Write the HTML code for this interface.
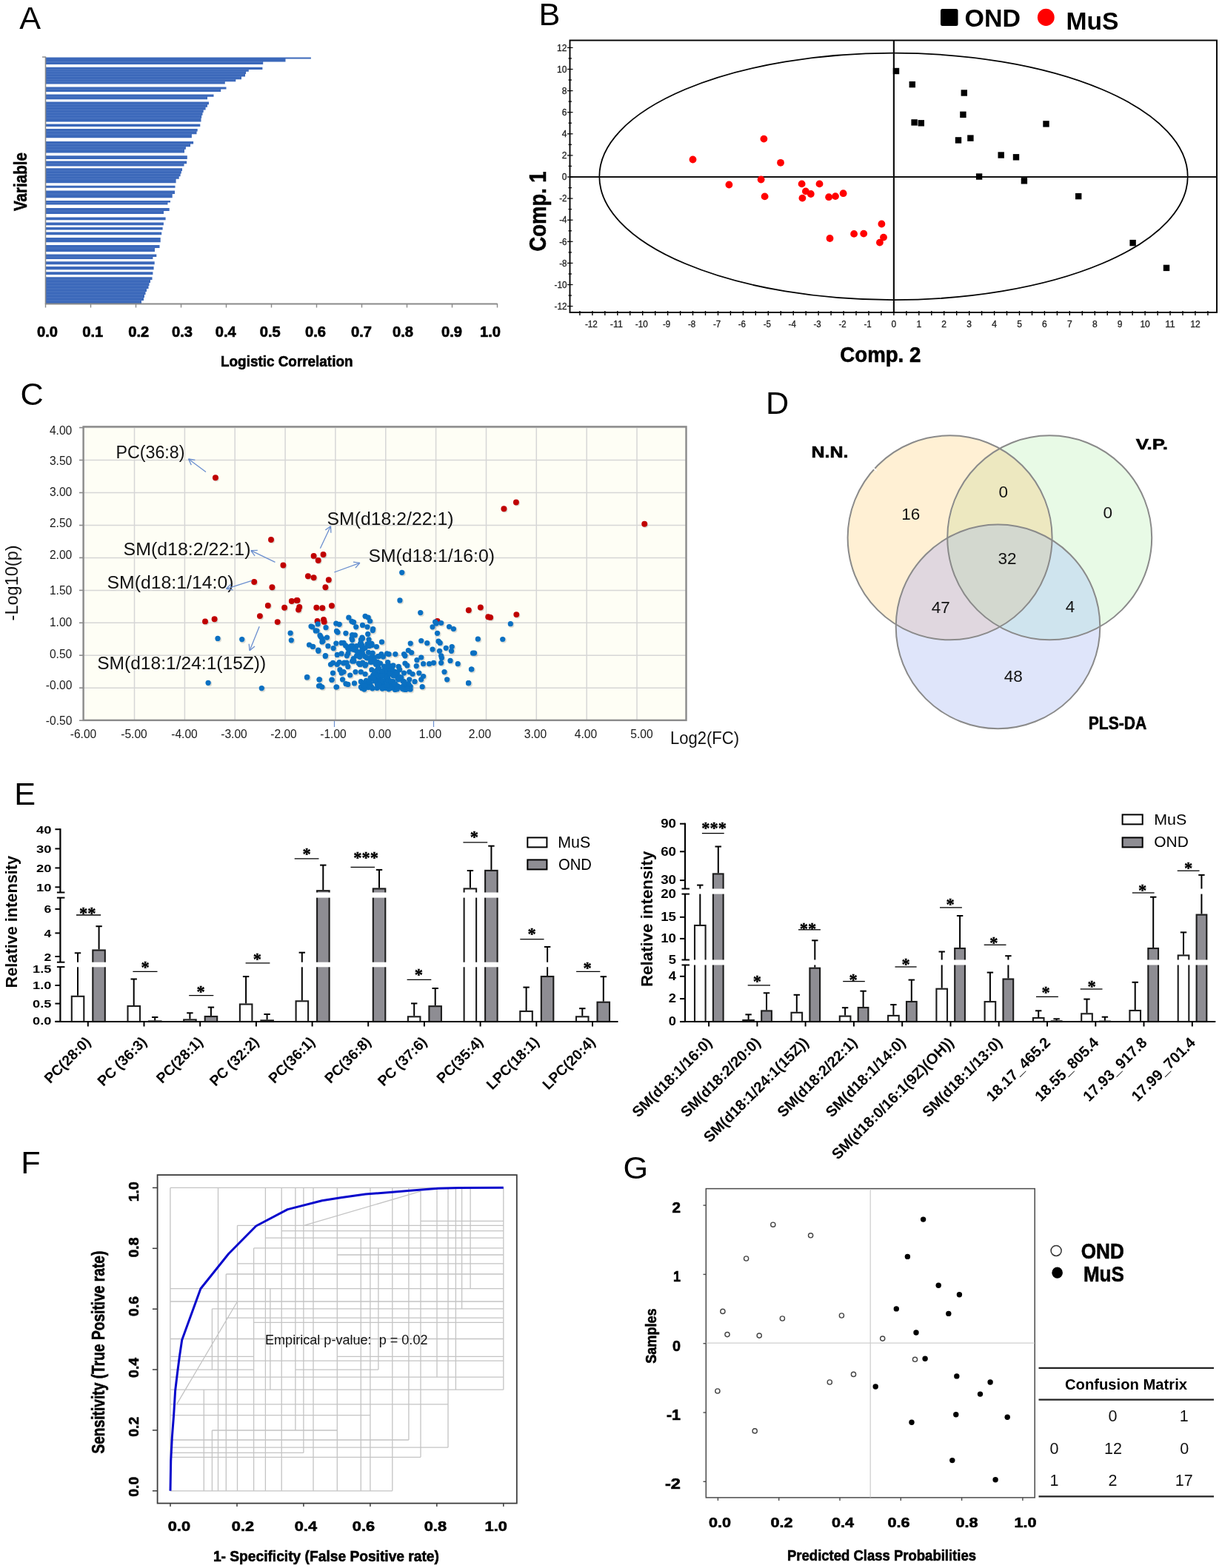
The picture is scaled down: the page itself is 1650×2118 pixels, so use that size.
<!DOCTYPE html>
<html><head><meta charset="utf-8"><title>Figure</title>
<style>html,body{margin:0;padding:0;background:#fff;}svg{display:block;}
text{font-family:"Liberation Sans",Arial,sans-serif;}</style></head><body>
<svg width="1650" height="2118" viewBox="0 0 1650 2118">
<rect x="0" y="0" width="1650" height="2118" fill="#fff"/>
<path d="M62,77.5 L419.9,77.5 L419.9,79.4 L62,79.4 Z M62,79.4 L385.5,79.4 L385.5,83.5 L355.2,83.5 L355.2,86.9 L62,86.9 Z M62,90.8 L354.4,90.8 L354.4,94 L335.8,94 L335.8,96.8 L332.1,96.8 L332.1,100 L331,100 L331,103.6 L326,103.6 L326,107.3 L318.3,107.3 L318.3,110.2 L303.8,110.2 L303.8,113.5 L62,113.5 Z M62,117.5 L305.5,117.5 L305.5,120.6 L298.2,120.6 L298.2,124 L62,124 Z M62,127.4 L288.5,127.4 L288.5,130.8 L280,130.8 L280,134.2 L62,134.2 Z M62,137.6 L282,137.6 L282,141.2 L280,141.2 L280,144.8 L277.6,144.8 L277.6,148.5 L274.7,148.5 L274.7,152.1 L273.5,152.1 L273.5,155.8 L272.2,155.8 L272.2,159.4 L271.5,159.4 L271.5,164.4 L62,164.4 Z M62,167.4 L270.3,167.4 L270.3,171 L62,171 Z M62,174 L266.7,174 L266.7,177.6 L265.5,177.6 L265.5,181.2 L258.9,181.2 L258.9,186.2 L62,186.2 Z M62,190.9 L261.1,190.9 L261.1,194.5 L257,194.5 L257,198.2 L250.9,198.2 L250.9,201.8 L249,201.8 L249,206.4 L62,206.4 Z M62,210.3 L252.8,210.3 L252.8,214.9 L62,214.9 Z M62,217.6 L252.1,217.6 L252.1,221.2 L248.5,221.2 L248.5,224.6 L62,224.6 Z M62,227.3 L246,227.3 L246,230.9 L244.8,230.9 L244.8,234.5 L243.6,234.5 L243.6,238.2 L241.7,238.2 L241.7,241.8 L237.6,241.8 L237.6,247.2 L62,247.2 Z M62,250.8 L236.5,250.8 L236.5,253.8 L62,253.8 Z M62,257.6 L236,257.6 L236,262 L232.7,262 L232.7,267.3 L62,267.3 Z M62,270.9 L230,270.9 L230,273.5 L226.4,273.5 L226.4,276.4 L62,276.4 Z M62,280.9 L228.7,280.9 L228.7,285 L221,285 L221,289 L62,289 Z M62,293.6 L223.6,293.6 L223.6,297.3 L62,297.3 Z M62,300.5 L220.9,300.5 L220.9,304.2 L62,304.2 Z M62,306.9 L219.6,306.9 L219.6,310.5 L62,310.5 Z M62,313.6 L218.2,313.6 L218.2,317.3 L62,317.3 Z M62,320.9 L216.7,320.9 L216.7,327.3 L62,327.3 Z M62,330.9 L215.5,330.9 L215.5,335 L209,335 L209,340 L62,340 Z M62,343.6 L211.3,343.6 L211.3,347 L206.4,347 L206.4,350 L62,350 Z M62,353.3 L208.7,353.3 L208.7,357.3 L62,357.3 Z M62,360 L207.6,360 L207.6,364.2 L62,364.2 Z M62,367.3 L206.4,367.3 L206.4,370.9 L62,370.9 Z M62,374.2 L205.5,374.2 L205.5,378 L203,378 L203,382 L201.5,382 L201.5,386 L200.5,386 L200.5,390 L198,390 L198,394 L196.5,394 L196.5,398 L195,398 L195,402 L194,402 L194,406 L191,406 L191,410 L62,410 Z " fill="#3b68ba"/>
<path d="M63,83.5H354.2M63,94H334.8M63,96.8H331.1M63,100H330M63,103.6H325M63,107.3H317.3M63,110.2H302.8M63,120.6H297.2M63,130.8H279M63,141.2H279M63,144.8H276.6M63,148.5H273.7M63,152.1H272.5M63,155.8H271.2M63,159.4H270.5M63,177.6H264.5M63,181.2H257.9M63,194.5H256M63,198.2H249.9M63,201.8H248M63,221.2H247.5M63,230.9H243.8M63,234.5H242.6M63,238.2H240.7M63,241.8H236.6M63,262H231.7M63,273.5H225.4M63,285H220M63,335H208M63,347H205.4M63,378H202M63,382H200.5M63,386H199.5M63,390H197M63,394H195.5M63,398H194M63,402H193M63,406H190" stroke="#6f93d2" stroke-width="0.7" opacity="0.6" fill="none"/>
<line x1="61.5" y1="76.5" x2="61.5" y2="411.0" stroke="#8a8a8a" stroke-width="1.6" />
<line x1="57.0" y1="77.0" x2="61.5" y2="77.0" stroke="#8a8a8a" stroke-width="1.4" />
<line x1="61.0" y1="410.5" x2="671.5" y2="410.5" stroke="#8a8a8a" stroke-width="1.8" />
<line x1="61.5" y1="410.0" x2="61.5" y2="415.5" stroke="#8a8a8a" stroke-width="1.4" />
<line x1="122.5" y1="410.0" x2="122.5" y2="415.5" stroke="#8a8a8a" stroke-width="1.4" />
<line x1="183.5" y1="410.0" x2="183.5" y2="415.5" stroke="#8a8a8a" stroke-width="1.4" />
<line x1="244.5" y1="410.0" x2="244.5" y2="415.5" stroke="#8a8a8a" stroke-width="1.4" />
<line x1="305.5" y1="410.0" x2="305.5" y2="415.5" stroke="#8a8a8a" stroke-width="1.4" />
<line x1="366.5" y1="410.0" x2="366.5" y2="415.5" stroke="#8a8a8a" stroke-width="1.4" />
<line x1="427.5" y1="410.0" x2="427.5" y2="415.5" stroke="#8a8a8a" stroke-width="1.4" />
<line x1="488.5" y1="410.0" x2="488.5" y2="415.5" stroke="#8a8a8a" stroke-width="1.4" />
<line x1="549.5" y1="410.0" x2="549.5" y2="415.5" stroke="#8a8a8a" stroke-width="1.4" />
<line x1="610.5" y1="410.0" x2="610.5" y2="415.5" stroke="#8a8a8a" stroke-width="1.4" />
<line x1="671.5" y1="410.0" x2="671.5" y2="415.5" stroke="#8a8a8a" stroke-width="1.4" />
<text x="64.0" y="455.3" font-size="19.5" font-weight="bold" text-anchor="middle" textLength="28.0" lengthAdjust="spacingAndGlyphs" stroke="#000" stroke-width="0.6">0.0</text>
<text x="125.2" y="455.3" font-size="19.5" font-weight="bold" text-anchor="middle" textLength="28.0" lengthAdjust="spacingAndGlyphs" stroke="#000" stroke-width="0.6">0.1</text>
<text x="187.2" y="455.3" font-size="19.5" font-weight="bold" text-anchor="middle" textLength="28.0" lengthAdjust="spacingAndGlyphs" stroke="#000" stroke-width="0.6">0.2</text>
<text x="246.0" y="455.3" font-size="19.5" font-weight="bold" text-anchor="middle" textLength="28.0" lengthAdjust="spacingAndGlyphs" stroke="#000" stroke-width="0.6">0.3</text>
<text x="304.7" y="455.3" font-size="19.5" font-weight="bold" text-anchor="middle" textLength="28.0" lengthAdjust="spacingAndGlyphs" stroke="#000" stroke-width="0.6">0.4</text>
<text x="364.8" y="455.3" font-size="19.5" font-weight="bold" text-anchor="middle" textLength="28.0" lengthAdjust="spacingAndGlyphs" stroke="#000" stroke-width="0.6">0.5</text>
<text x="426.0" y="455.3" font-size="19.5" font-weight="bold" text-anchor="middle" textLength="28.0" lengthAdjust="spacingAndGlyphs" stroke="#000" stroke-width="0.6">0.6</text>
<text x="488.0" y="455.3" font-size="19.5" font-weight="bold" text-anchor="middle" textLength="28.0" lengthAdjust="spacingAndGlyphs" stroke="#000" stroke-width="0.6">0.7</text>
<text x="544.0" y="455.3" font-size="19.5" font-weight="bold" text-anchor="middle" textLength="28.0" lengthAdjust="spacingAndGlyphs" stroke="#000" stroke-width="0.6">0.8</text>
<text x="610.0" y="455.3" font-size="19.5" font-weight="bold" text-anchor="middle" textLength="28.0" lengthAdjust="spacingAndGlyphs" stroke="#000" stroke-width="0.6">0.9</text>
<text x="662.0" y="455.3" font-size="19.5" font-weight="bold" text-anchor="middle" textLength="28.0" lengthAdjust="spacingAndGlyphs" stroke="#000" stroke-width="0.6">1.0</text>
<text x="298.0" y="495.0" font-size="20.4" font-weight="bold" textLength="178.5" lengthAdjust="spacingAndGlyphs" stroke="#000" stroke-width="0.6">Logistic Correlation</text>
<text x="0.0" y="0.0" font-size="24" font-weight="bold" text-anchor="middle" textLength="79.0" lengthAdjust="spacingAndGlyphs" transform="translate(35.5,245.5) rotate(-90)" stroke="#000" stroke-width="0.6">Variable</text>
<text x="26.2" y="38.9" font-size="43.2">A</text>
<text x="727.6" y="33.8" font-size="43.2">B</text>
<text x="27.4" y="546.6" font-size="43.2">C</text>
<text x="1033.9" y="558.9" font-size="43.2">D</text>
<text x="19.2" y="1086.9" font-size="43.2">E</text>
<text x="28.2" y="1584.9" font-size="43.2">F</text>
<text x="841.6" y="1592.3" font-size="43.2">G</text>
<rect x="1270" y="12" width="23.5" height="23" rx="2.5" fill="#000"/>
<text x="1302.5" y="36.4" font-size="33" font-weight="bold" textLength="75.5" lengthAdjust="spacingAndGlyphs">OND</text>
<ellipse cx="1412.3" cy="23.4" rx="11.4" ry="11.6" fill="#ff0000"/>
<text x="1439.5" y="39.6" font-size="33" font-weight="bold" textLength="71.0" lengthAdjust="spacingAndGlyphs">MuS</text>
<rect x="769.5" y="54.5" width="873.5" height="367.5" fill="#fff" stroke="#000" stroke-width="1.9" />
<ellipse cx="1206.5" cy="238.4" rx="397.2" ry="166.7" fill="none" stroke="#000" stroke-width="1.8"/>
<line x1="769.5" y1="239.0" x2="1643.0" y2="239.0" stroke="#111" stroke-width="2.2" />
<line x1="1206.9" y1="54.5" x2="1206.9" y2="422.0" stroke="#111" stroke-width="2.2" />
<line x1="766.0" y1="413.6" x2="773.5" y2="413.6" stroke="#000" stroke-width="1.2" />
<text x="765.5" y="417.8" font-size="12" text-anchor="end" fill="#222" textLength="16.9" lengthAdjust="spacingAndGlyphs" stroke="#222" stroke-width="0.3">-12</text>
<line x1="767.5" y1="399.1" x2="772.0" y2="399.1" stroke="#000" stroke-width="1.2" />
<line x1="766.0" y1="384.5" x2="773.5" y2="384.5" stroke="#000" stroke-width="1.2" />
<text x="765.5" y="388.7" font-size="12" text-anchor="end" fill="#222" textLength="16.9" lengthAdjust="spacingAndGlyphs" stroke="#222" stroke-width="0.3">-10</text>
<line x1="767.5" y1="370.0" x2="772.0" y2="370.0" stroke="#000" stroke-width="1.2" />
<line x1="766.0" y1="355.4" x2="773.5" y2="355.4" stroke="#000" stroke-width="1.2" />
<text x="765.5" y="359.6" font-size="12" text-anchor="end" fill="#222" textLength="10.2" lengthAdjust="spacingAndGlyphs" stroke="#222" stroke-width="0.3">-8</text>
<line x1="767.5" y1="340.9" x2="772.0" y2="340.9" stroke="#000" stroke-width="1.2" />
<line x1="766.0" y1="326.3" x2="773.5" y2="326.3" stroke="#000" stroke-width="1.2" />
<text x="765.5" y="330.5" font-size="12" text-anchor="end" fill="#222" textLength="10.2" lengthAdjust="spacingAndGlyphs" stroke="#222" stroke-width="0.3">-6</text>
<line x1="767.5" y1="311.8" x2="772.0" y2="311.8" stroke="#000" stroke-width="1.2" />
<line x1="766.0" y1="297.2" x2="773.5" y2="297.2" stroke="#000" stroke-width="1.2" />
<text x="765.5" y="301.4" font-size="12" text-anchor="end" fill="#222" textLength="10.2" lengthAdjust="spacingAndGlyphs" stroke="#222" stroke-width="0.3">-4</text>
<line x1="767.5" y1="282.6" x2="772.0" y2="282.6" stroke="#000" stroke-width="1.2" />
<line x1="766.0" y1="268.1" x2="773.5" y2="268.1" stroke="#000" stroke-width="1.2" />
<text x="765.5" y="272.3" font-size="12" text-anchor="end" fill="#222" textLength="10.2" lengthAdjust="spacingAndGlyphs" stroke="#222" stroke-width="0.3">-2</text>
<line x1="767.5" y1="253.6" x2="772.0" y2="253.6" stroke="#000" stroke-width="1.2" />
<line x1="766.0" y1="239.0" x2="773.5" y2="239.0" stroke="#000" stroke-width="1.2" />
<text x="765.5" y="243.2" font-size="12" text-anchor="end" fill="#222" textLength="6.7" lengthAdjust="spacingAndGlyphs" stroke="#222" stroke-width="0.3">0</text>
<line x1="767.5" y1="224.4" x2="772.0" y2="224.4" stroke="#000" stroke-width="1.2" />
<line x1="766.0" y1="209.9" x2="773.5" y2="209.9" stroke="#000" stroke-width="1.2" />
<text x="765.5" y="214.1" font-size="12" text-anchor="end" fill="#222" textLength="6.7" lengthAdjust="spacingAndGlyphs" stroke="#222" stroke-width="0.3">2</text>
<line x1="767.5" y1="195.3" x2="772.0" y2="195.3" stroke="#000" stroke-width="1.2" />
<line x1="766.0" y1="180.8" x2="773.5" y2="180.8" stroke="#000" stroke-width="1.2" />
<text x="765.5" y="185.0" font-size="12" text-anchor="end" fill="#222" textLength="6.7" lengthAdjust="spacingAndGlyphs" stroke="#222" stroke-width="0.3">4</text>
<line x1="767.5" y1="166.2" x2="772.0" y2="166.2" stroke="#000" stroke-width="1.2" />
<line x1="766.0" y1="151.7" x2="773.5" y2="151.7" stroke="#000" stroke-width="1.2" />
<text x="765.5" y="155.9" font-size="12" text-anchor="end" fill="#222" textLength="6.7" lengthAdjust="spacingAndGlyphs" stroke="#222" stroke-width="0.3">6</text>
<line x1="767.5" y1="137.1" x2="772.0" y2="137.1" stroke="#000" stroke-width="1.2" />
<line x1="766.0" y1="122.6" x2="773.5" y2="122.6" stroke="#000" stroke-width="1.2" />
<text x="765.5" y="126.8" font-size="12" text-anchor="end" fill="#222" textLength="6.7" lengthAdjust="spacingAndGlyphs" stroke="#222" stroke-width="0.3">8</text>
<line x1="767.5" y1="108.0" x2="772.0" y2="108.0" stroke="#000" stroke-width="1.2" />
<line x1="766.0" y1="93.5" x2="773.5" y2="93.5" stroke="#000" stroke-width="1.2" />
<text x="765.5" y="97.7" font-size="12" text-anchor="end" fill="#222" textLength="13.4" lengthAdjust="spacingAndGlyphs" stroke="#222" stroke-width="0.3">10</text>
<line x1="767.5" y1="78.9" x2="772.0" y2="78.9" stroke="#000" stroke-width="1.2" />
<line x1="766.0" y1="64.4" x2="773.5" y2="64.4" stroke="#000" stroke-width="1.2" />
<text x="765.5" y="68.6" font-size="12" text-anchor="end" fill="#222" textLength="13.4" lengthAdjust="spacingAndGlyphs" stroke="#222" stroke-width="0.3">12</text>
<line x1="782.9" y1="420.0" x2="782.9" y2="426.0" stroke="#000" stroke-width="1.4" />
<line x1="799.9" y1="420.0" x2="799.9" y2="426.0" stroke="#000" stroke-width="1.4" />
<text x="798.4" y="442.0" font-size="12" text-anchor="middle" fill="#222" textLength="16.9" lengthAdjust="spacingAndGlyphs" stroke="#222" stroke-width="0.3">-12</text>
<line x1="816.8" y1="420.0" x2="816.8" y2="426.0" stroke="#000" stroke-width="1.4" />
<line x1="833.8" y1="420.0" x2="833.8" y2="426.0" stroke="#000" stroke-width="1.4" />
<text x="832.3" y="442.0" font-size="12" text-anchor="middle" fill="#222" textLength="16.9" lengthAdjust="spacingAndGlyphs" stroke="#222" stroke-width="0.3">-11</text>
<line x1="850.7" y1="420.0" x2="850.7" y2="426.0" stroke="#000" stroke-width="1.4" />
<line x1="867.7" y1="420.0" x2="867.7" y2="426.0" stroke="#000" stroke-width="1.4" />
<text x="866.2" y="442.0" font-size="12" text-anchor="middle" fill="#222" textLength="16.9" lengthAdjust="spacingAndGlyphs" stroke="#222" stroke-width="0.3">-10</text>
<line x1="884.7" y1="420.0" x2="884.7" y2="426.0" stroke="#000" stroke-width="1.4" />
<line x1="901.6" y1="420.0" x2="901.6" y2="426.0" stroke="#000" stroke-width="1.4" />
<text x="900.1" y="442.0" font-size="12" text-anchor="middle" fill="#222" textLength="10.2" lengthAdjust="spacingAndGlyphs" stroke="#222" stroke-width="0.3">-9</text>
<line x1="918.6" y1="420.0" x2="918.6" y2="426.0" stroke="#000" stroke-width="1.4" />
<line x1="935.5" y1="420.0" x2="935.5" y2="426.0" stroke="#000" stroke-width="1.4" />
<text x="934.0" y="442.0" font-size="12" text-anchor="middle" fill="#222" textLength="10.2" lengthAdjust="spacingAndGlyphs" stroke="#222" stroke-width="0.3">-8</text>
<line x1="952.5" y1="420.0" x2="952.5" y2="426.0" stroke="#000" stroke-width="1.4" />
<line x1="969.5" y1="420.0" x2="969.5" y2="426.0" stroke="#000" stroke-width="1.4" />
<text x="968.0" y="442.0" font-size="12" text-anchor="middle" fill="#222" textLength="10.2" lengthAdjust="spacingAndGlyphs" stroke="#222" stroke-width="0.3">-7</text>
<line x1="986.4" y1="420.0" x2="986.4" y2="426.0" stroke="#000" stroke-width="1.4" />
<line x1="1003.4" y1="420.0" x2="1003.4" y2="426.0" stroke="#000" stroke-width="1.4" />
<text x="1001.9" y="442.0" font-size="12" text-anchor="middle" fill="#222" textLength="10.2" lengthAdjust="spacingAndGlyphs" stroke="#222" stroke-width="0.3">-6</text>
<line x1="1020.3" y1="420.0" x2="1020.3" y2="426.0" stroke="#000" stroke-width="1.4" />
<line x1="1037.3" y1="420.0" x2="1037.3" y2="426.0" stroke="#000" stroke-width="1.4" />
<text x="1035.8" y="442.0" font-size="12" text-anchor="middle" fill="#222" textLength="10.2" lengthAdjust="spacingAndGlyphs" stroke="#222" stroke-width="0.3">-5</text>
<line x1="1054.3" y1="420.0" x2="1054.3" y2="426.0" stroke="#000" stroke-width="1.4" />
<line x1="1071.2" y1="420.0" x2="1071.2" y2="426.0" stroke="#000" stroke-width="1.4" />
<text x="1069.7" y="442.0" font-size="12" text-anchor="middle" fill="#222" textLength="10.2" lengthAdjust="spacingAndGlyphs" stroke="#222" stroke-width="0.3">-4</text>
<line x1="1088.2" y1="420.0" x2="1088.2" y2="426.0" stroke="#000" stroke-width="1.4" />
<line x1="1105.1" y1="420.0" x2="1105.1" y2="426.0" stroke="#000" stroke-width="1.4" />
<text x="1103.6" y="442.0" font-size="12" text-anchor="middle" fill="#222" textLength="10.2" lengthAdjust="spacingAndGlyphs" stroke="#222" stroke-width="0.3">-3</text>
<line x1="1122.1" y1="420.0" x2="1122.1" y2="426.0" stroke="#000" stroke-width="1.4" />
<line x1="1139.1" y1="420.0" x2="1139.1" y2="426.0" stroke="#000" stroke-width="1.4" />
<text x="1137.6" y="442.0" font-size="12" text-anchor="middle" fill="#222" textLength="10.2" lengthAdjust="spacingAndGlyphs" stroke="#222" stroke-width="0.3">-2</text>
<line x1="1156.0" y1="420.0" x2="1156.0" y2="426.0" stroke="#000" stroke-width="1.4" />
<line x1="1173.0" y1="420.0" x2="1173.0" y2="426.0" stroke="#000" stroke-width="1.4" />
<text x="1171.5" y="442.0" font-size="12" text-anchor="middle" fill="#222" textLength="10.2" lengthAdjust="spacingAndGlyphs" stroke="#222" stroke-width="0.3">-1</text>
<line x1="1189.9" y1="420.0" x2="1189.9" y2="426.0" stroke="#000" stroke-width="1.4" />
<line x1="1206.9" y1="420.0" x2="1206.9" y2="426.0" stroke="#000" stroke-width="1.4" />
<text x="1206.9" y="442.0" font-size="12" text-anchor="middle" fill="#222" textLength="6.7" lengthAdjust="spacingAndGlyphs" stroke="#222" stroke-width="0.3">0</text>
<line x1="1223.9" y1="420.0" x2="1223.9" y2="426.0" stroke="#000" stroke-width="1.4" />
<line x1="1240.8" y1="420.0" x2="1240.8" y2="426.0" stroke="#000" stroke-width="1.4" />
<text x="1240.8" y="442.0" font-size="12" text-anchor="middle" fill="#222" textLength="6.7" lengthAdjust="spacingAndGlyphs" stroke="#222" stroke-width="0.3">1</text>
<line x1="1257.8" y1="420.0" x2="1257.8" y2="426.0" stroke="#000" stroke-width="1.4" />
<line x1="1274.7" y1="420.0" x2="1274.7" y2="426.0" stroke="#000" stroke-width="1.4" />
<text x="1274.7" y="442.0" font-size="12" text-anchor="middle" fill="#222" textLength="6.7" lengthAdjust="spacingAndGlyphs" stroke="#222" stroke-width="0.3">2</text>
<line x1="1291.7" y1="420.0" x2="1291.7" y2="426.0" stroke="#000" stroke-width="1.4" />
<line x1="1308.7" y1="420.0" x2="1308.7" y2="426.0" stroke="#000" stroke-width="1.4" />
<text x="1308.7" y="442.0" font-size="12" text-anchor="middle" fill="#222" textLength="6.7" lengthAdjust="spacingAndGlyphs" stroke="#222" stroke-width="0.3">3</text>
<line x1="1325.6" y1="420.0" x2="1325.6" y2="426.0" stroke="#000" stroke-width="1.4" />
<line x1="1342.6" y1="420.0" x2="1342.6" y2="426.0" stroke="#000" stroke-width="1.4" />
<text x="1342.6" y="442.0" font-size="12" text-anchor="middle" fill="#222" textLength="6.7" lengthAdjust="spacingAndGlyphs" stroke="#222" stroke-width="0.3">4</text>
<line x1="1359.5" y1="420.0" x2="1359.5" y2="426.0" stroke="#000" stroke-width="1.4" />
<line x1="1376.5" y1="420.0" x2="1376.5" y2="426.0" stroke="#000" stroke-width="1.4" />
<text x="1376.5" y="442.0" font-size="12" text-anchor="middle" fill="#222" textLength="6.7" lengthAdjust="spacingAndGlyphs" stroke="#222" stroke-width="0.3">5</text>
<line x1="1393.5" y1="420.0" x2="1393.5" y2="426.0" stroke="#000" stroke-width="1.4" />
<line x1="1410.4" y1="420.0" x2="1410.4" y2="426.0" stroke="#000" stroke-width="1.4" />
<text x="1410.4" y="442.0" font-size="12" text-anchor="middle" fill="#222" textLength="6.7" lengthAdjust="spacingAndGlyphs" stroke="#222" stroke-width="0.3">6</text>
<line x1="1427.4" y1="420.0" x2="1427.4" y2="426.0" stroke="#000" stroke-width="1.4" />
<line x1="1444.3" y1="420.0" x2="1444.3" y2="426.0" stroke="#000" stroke-width="1.4" />
<text x="1444.3" y="442.0" font-size="12" text-anchor="middle" fill="#222" textLength="6.7" lengthAdjust="spacingAndGlyphs" stroke="#222" stroke-width="0.3">7</text>
<line x1="1461.3" y1="420.0" x2="1461.3" y2="426.0" stroke="#000" stroke-width="1.4" />
<line x1="1478.3" y1="420.0" x2="1478.3" y2="426.0" stroke="#000" stroke-width="1.4" />
<text x="1478.3" y="442.0" font-size="12" text-anchor="middle" fill="#222" textLength="6.7" lengthAdjust="spacingAndGlyphs" stroke="#222" stroke-width="0.3">8</text>
<line x1="1495.2" y1="420.0" x2="1495.2" y2="426.0" stroke="#000" stroke-width="1.4" />
<line x1="1512.2" y1="420.0" x2="1512.2" y2="426.0" stroke="#000" stroke-width="1.4" />
<text x="1512.2" y="442.0" font-size="12" text-anchor="middle" fill="#222" textLength="6.7" lengthAdjust="spacingAndGlyphs" stroke="#222" stroke-width="0.3">9</text>
<line x1="1529.1" y1="420.0" x2="1529.1" y2="426.0" stroke="#000" stroke-width="1.4" />
<line x1="1546.1" y1="420.0" x2="1546.1" y2="426.0" stroke="#000" stroke-width="1.4" />
<text x="1546.1" y="442.0" font-size="12" text-anchor="middle" fill="#222" textLength="13.4" lengthAdjust="spacingAndGlyphs" stroke="#222" stroke-width="0.3">10</text>
<line x1="1563.1" y1="420.0" x2="1563.1" y2="426.0" stroke="#000" stroke-width="1.4" />
<line x1="1580.0" y1="420.0" x2="1580.0" y2="426.0" stroke="#000" stroke-width="1.4" />
<text x="1580.0" y="442.0" font-size="12" text-anchor="middle" fill="#222" textLength="13.4" lengthAdjust="spacingAndGlyphs" stroke="#222" stroke-width="0.3">11</text>
<line x1="1597.0" y1="420.0" x2="1597.0" y2="426.0" stroke="#000" stroke-width="1.4" />
<line x1="1613.9" y1="420.0" x2="1613.9" y2="426.0" stroke="#000" stroke-width="1.4" />
<text x="1613.9" y="442.0" font-size="12" text-anchor="middle" fill="#222" textLength="13.4" lengthAdjust="spacingAndGlyphs" stroke="#222" stroke-width="0.3">12</text>
<line x1="1630.9" y1="420.0" x2="1630.9" y2="426.0" stroke="#000" stroke-width="1.4" />
<circle cx="935.5" cy="215.5" r="4.9" fill="#ff0000"/>
<circle cx="1031.4" cy="187.6" r="4.9" fill="#ff0000"/>
<circle cx="1054.0" cy="219.8" r="4.9" fill="#ff0000"/>
<circle cx="984.4" cy="249.5" r="4.9" fill="#ff0000"/>
<circle cx="1027.6" cy="242.5" r="4.9" fill="#ff0000"/>
<circle cx="1032.6" cy="265.4" r="4.9" fill="#ff0000"/>
<circle cx="1082.6" cy="248.4" r="4.9" fill="#ff0000"/>
<circle cx="1087.9" cy="258.4" r="4.9" fill="#ff0000"/>
<circle cx="1083.4" cy="267.6" r="4.9" fill="#ff0000"/>
<circle cx="1094.8" cy="262.0" r="4.9" fill="#ff0000"/>
<circle cx="1106.5" cy="248.4" r="4.9" fill="#ff0000"/>
<circle cx="1119.1" cy="266.2" r="4.9" fill="#ff0000"/>
<circle cx="1128.0" cy="265.1" r="4.9" fill="#ff0000"/>
<circle cx="1138.6" cy="261.2" r="4.9" fill="#ff0000"/>
<circle cx="1190.4" cy="302.5" r="4.9" fill="#ff0000"/>
<circle cx="1153.1" cy="315.9" r="4.9" fill="#ff0000"/>
<circle cx="1166.2" cy="315.6" r="4.9" fill="#ff0000"/>
<circle cx="1120.5" cy="322.0" r="4.9" fill="#ff0000"/>
<circle cx="1193.0" cy="320.6" r="4.9" fill="#ff0000"/>
<circle cx="1187.9" cy="327.6" r="4.9" fill="#ff0000"/>
<rect x="1205.8" y="91.8" width="8.4" height="8.4" fill="#000" />
<rect x="1227.6" y="109.9" width="8.4" height="8.4" fill="#000" />
<rect x="1297.6" y="121.3" width="8.4" height="8.4" fill="#000" />
<rect x="1296.2" y="150.6" width="8.4" height="8.4" fill="#000" />
<rect x="1230.4" y="161.2" width="8.4" height="8.4" fill="#000" />
<rect x="1239.6" y="162.1" width="8.4" height="8.4" fill="#000" />
<rect x="1408.3" y="163.2" width="8.4" height="8.4" fill="#000" />
<rect x="1289.8" y="185.2" width="8.4" height="8.4" fill="#000" />
<rect x="1306.2" y="182.4" width="8.4" height="8.4" fill="#000" />
<rect x="1347.5" y="205.3" width="8.4" height="8.4" fill="#000" />
<rect x="1367.8" y="208.1" width="8.4" height="8.4" fill="#000" />
<rect x="1317.9" y="234.3" width="8.4" height="8.4" fill="#000" />
<rect x="1378.7" y="240.1" width="8.4" height="8.4" fill="#000" />
<rect x="1452.0" y="260.9" width="8.4" height="8.4" fill="#000" />
<rect x="1525.4" y="323.9" width="8.4" height="8.4" fill="#000" />
<rect x="1570.8" y="357.7" width="8.4" height="8.4" fill="#000" />
<text x="1134.3" y="489.0" font-size="29" font-weight="bold" textLength="109.0" lengthAdjust="spacingAndGlyphs" stroke="#000" stroke-width="0.6">Comp. 2</text>
<text x="0.0" y="0.0" font-size="32" font-weight="bold" text-anchor="middle" textLength="108.0" lengthAdjust="spacingAndGlyphs" transform="translate(737.4,285.4) rotate(-90)" stroke="#000" stroke-width="0.6">Comp. 1</text>
<rect x="112.6" y="576.4" width="813.9" height="396.5" fill="#fefef5" />
<line x1="181.5" y1="576.4" x2="181.5" y2="972.9" stroke="#d6d6d6" stroke-width="1.5" />
<line x1="249.4" y1="576.4" x2="249.4" y2="972.9" stroke="#d6d6d6" stroke-width="1.5" />
<line x1="317.2" y1="576.4" x2="317.2" y2="972.9" stroke="#d6d6d6" stroke-width="1.5" />
<line x1="385.1" y1="576.4" x2="385.1" y2="972.9" stroke="#d6d6d6" stroke-width="1.5" />
<line x1="452.9" y1="576.4" x2="452.9" y2="972.9" stroke="#d6d6d6" stroke-width="1.5" />
<line x1="520.8" y1="576.4" x2="520.8" y2="972.9" stroke="#d6d6d6" stroke-width="1.5" />
<line x1="588.6" y1="576.4" x2="588.6" y2="972.9" stroke="#d6d6d6" stroke-width="1.5" />
<line x1="656.5" y1="576.4" x2="656.5" y2="972.9" stroke="#d6d6d6" stroke-width="1.5" />
<line x1="724.3" y1="576.4" x2="724.3" y2="972.9" stroke="#d6d6d6" stroke-width="1.5" />
<line x1="792.2" y1="576.4" x2="792.2" y2="972.9" stroke="#d6d6d6" stroke-width="1.5" />
<line x1="860.0" y1="576.4" x2="860.0" y2="972.9" stroke="#d6d6d6" stroke-width="1.5" />
<line x1="112.6" y1="929.2" x2="926.5" y2="929.2" stroke="#d6d6d6" stroke-width="1.5" />
<line x1="112.6" y1="885.2" x2="926.5" y2="885.2" stroke="#d6d6d6" stroke-width="1.5" />
<line x1="112.6" y1="841.3" x2="926.5" y2="841.3" stroke="#d6d6d6" stroke-width="1.5" />
<line x1="112.6" y1="797.4" x2="926.5" y2="797.4" stroke="#d6d6d6" stroke-width="1.5" />
<line x1="112.6" y1="753.4" x2="926.5" y2="753.4" stroke="#d6d6d6" stroke-width="1.5" />
<line x1="112.6" y1="709.5" x2="926.5" y2="709.5" stroke="#d6d6d6" stroke-width="1.5" />
<line x1="112.6" y1="665.5" x2="926.5" y2="665.5" stroke="#d6d6d6" stroke-width="1.5" />
<line x1="112.6" y1="621.5" x2="926.5" y2="621.5" stroke="#d6d6d6" stroke-width="1.5" />
<line x1="112.6" y1="577.6" x2="926.5" y2="577.6" stroke="#d6d6d6" stroke-width="1.5" />
<rect x="112.6" y="576.4" width="813.9" height="396.5" fill="none" stroke="#8a8a8a" stroke-width="2.4"/>
<line x1="107.0" y1="973.2" x2="112.6" y2="973.2" stroke="#8a8a8a" stroke-width="1.6" />
<line x1="107.0" y1="929.2" x2="112.6" y2="929.2" stroke="#8a8a8a" stroke-width="1.6" />
<line x1="107.0" y1="885.2" x2="112.6" y2="885.2" stroke="#8a8a8a" stroke-width="1.6" />
<line x1="107.0" y1="841.3" x2="112.6" y2="841.3" stroke="#8a8a8a" stroke-width="1.6" />
<line x1="107.0" y1="797.4" x2="112.6" y2="797.4" stroke="#8a8a8a" stroke-width="1.6" />
<line x1="107.0" y1="753.4" x2="112.6" y2="753.4" stroke="#8a8a8a" stroke-width="1.6" />
<line x1="107.0" y1="709.5" x2="112.6" y2="709.5" stroke="#8a8a8a" stroke-width="1.6" />
<line x1="107.0" y1="665.5" x2="112.6" y2="665.5" stroke="#8a8a8a" stroke-width="1.6" />
<line x1="107.0" y1="621.5" x2="112.6" y2="621.5" stroke="#8a8a8a" stroke-width="1.6" />
<line x1="107.0" y1="577.6" x2="112.6" y2="577.6" stroke="#8a8a8a" stroke-width="1.6" />
<line x1="451.5" y1="974.0" x2="451.5" y2="982.0" stroke="#6b8fcf" stroke-width="1.2" />
<line x1="585.5" y1="974.0" x2="585.5" y2="982.0" stroke="#6b8fcf" stroke-width="1.2" />
<text x="97.3" y="586.9" font-size="15.6" text-anchor="end" fill="#1a1a1a" textLength="30.4" lengthAdjust="spacingAndGlyphs">4.00</text>
<text x="97.3" y="628.3" font-size="15.6" text-anchor="end" fill="#1a1a1a" textLength="30.4" lengthAdjust="spacingAndGlyphs">3.50</text>
<text x="97.3" y="670.3" font-size="15.6" text-anchor="end" fill="#1a1a1a" textLength="30.4" lengthAdjust="spacingAndGlyphs">3.00</text>
<text x="97.3" y="711.8" font-size="15.6" text-anchor="end" fill="#1a1a1a" textLength="30.4" lengthAdjust="spacingAndGlyphs">2.50</text>
<text x="97.3" y="755.0" font-size="15.6" text-anchor="end" fill="#1a1a1a" textLength="30.4" lengthAdjust="spacingAndGlyphs">2.00</text>
<text x="97.3" y="802.6" font-size="15.6" text-anchor="end" fill="#1a1a1a" textLength="30.4" lengthAdjust="spacingAndGlyphs">1.50</text>
<text x="97.3" y="845.5" font-size="15.6" text-anchor="end" fill="#1a1a1a" textLength="30.4" lengthAdjust="spacingAndGlyphs">1.00</text>
<text x="97.3" y="889.2" font-size="15.6" text-anchor="end" fill="#1a1a1a" textLength="30.4" lengthAdjust="spacingAndGlyphs">0.50</text>
<text x="97.3" y="931.3" font-size="15.6" text-anchor="end" fill="#1a1a1a" textLength="35.5" lengthAdjust="spacingAndGlyphs">-0.00</text>
<text x="97.3" y="979.3" font-size="15.6" text-anchor="end" fill="#1a1a1a" textLength="35.5" lengthAdjust="spacingAndGlyphs">-0.50</text>
<text x="112.5" y="996.6" font-size="15.8" text-anchor="middle" fill="#1a1a1a" textLength="35.5" lengthAdjust="spacingAndGlyphs">-6.00</text>
<text x="181.0" y="996.6" font-size="15.8" text-anchor="middle" fill="#1a1a1a" textLength="35.5" lengthAdjust="spacingAndGlyphs">-5.00</text>
<text x="249.0" y="996.6" font-size="15.8" text-anchor="middle" fill="#1a1a1a" textLength="35.5" lengthAdjust="spacingAndGlyphs">-4.00</text>
<text x="316.0" y="996.6" font-size="15.8" text-anchor="middle" fill="#1a1a1a" textLength="35.5" lengthAdjust="spacingAndGlyphs">-3.00</text>
<text x="383.0" y="996.6" font-size="15.8" text-anchor="middle" fill="#1a1a1a" textLength="35.5" lengthAdjust="spacingAndGlyphs">-2.00</text>
<text x="450.0" y="996.6" font-size="15.8" text-anchor="middle" fill="#1a1a1a" textLength="35.5" lengthAdjust="spacingAndGlyphs">-1.00</text>
<text x="513.0" y="996.6" font-size="15.8" text-anchor="middle" fill="#1a1a1a" textLength="30.4" lengthAdjust="spacingAndGlyphs">0.00</text>
<text x="581.0" y="996.6" font-size="15.8" text-anchor="middle" fill="#1a1a1a" textLength="30.4" lengthAdjust="spacingAndGlyphs">1.00</text>
<text x="648.0" y="996.6" font-size="15.8" text-anchor="middle" fill="#1a1a1a" textLength="30.4" lengthAdjust="spacingAndGlyphs">2.00</text>
<text x="723.0" y="996.6" font-size="15.8" text-anchor="middle" fill="#1a1a1a" textLength="30.4" lengthAdjust="spacingAndGlyphs">3.00</text>
<text x="791.0" y="996.6" font-size="15.8" text-anchor="middle" fill="#1a1a1a" textLength="30.4" lengthAdjust="spacingAndGlyphs">4.00</text>
<text x="866.5" y="996.6" font-size="15.8" text-anchor="middle" fill="#1a1a1a" textLength="30.4" lengthAdjust="spacingAndGlyphs">5.00</text>
<text x="905.0" y="1004.8" font-size="23.7" fill="#111" textLength="93.0" lengthAdjust="spacingAndGlyphs">Log2(FC)</text>
<text x="0.0" y="0.0" font-size="23.7" text-anchor="middle" fill="#111" textLength="102.0" lengthAdjust="spacingAndGlyphs" transform="translate(24,787.4) rotate(-90)">-Log10(p)</text>
<g fill="#000" opacity="0.13"><circle cx="292.0" cy="646.5" r="4"/><circle cx="367.1" cy="730.3" r="4"/><circle cx="383.5" cy="764.8" r="4"/><circle cx="424.7" cy="752.2" r="4"/><circle cx="437.6" cy="750.3" r="4"/><circle cx="430.8" cy="758.3" r="4"/><circle cx="344.3" cy="787.3" r="4"/><circle cx="368.5" cy="794.6" r="4"/><circle cx="417.0" cy="779.6" r="4"/><circle cx="424.7" cy="781.5" r="4"/><circle cx="444.9" cy="784.5" r="4"/><circle cx="440.5" cy="794.6" r="4"/><circle cx="394.9" cy="813.3" r="4"/><circle cx="401.7" cy="812.3" r="4"/><circle cx="405.3" cy="821.3" r="4"/><circle cx="404.1" cy="824.9" r="4"/><circle cx="362.9" cy="819.3" r="4"/><circle cx="385.2" cy="822.0" r="4"/><circle cx="428.4" cy="822.0" r="4"/><circle cx="436.4" cy="822.5" r="4"/><circle cx="449.0" cy="819.6" r="4"/><circle cx="352.0" cy="833.4" r="4"/><circle cx="375.8" cy="841.4" r="4"/><circle cx="278.1" cy="840.7" r="4"/><circle cx="290.7" cy="837.5" r="4"/><circle cx="429.6" cy="840.2" r="4"/><circle cx="438.1" cy="838.3" r="4"/><circle cx="438.8" cy="841.2" r="4"/><circle cx="402.6" cy="812.2" r="4"/><circle cx="681.5" cy="688.6" r="4"/><circle cx="698.0" cy="679.8" r="4"/><circle cx="871.3" cy="709.1" r="4"/><circle cx="633.9" cy="825.6" r="4"/><circle cx="649.9" cy="821.8" r="4"/><circle cx="660.3" cy="834.6" r="4"/><circle cx="663.2" cy="835.2" r="4"/><circle cx="698.4" cy="831.4" r="4"/><circle cx="591.7" cy="840.3" r="4"/><circle cx="541.0" cy="812.2" r="4"/><circle cx="568.8" cy="828.9" r="4"/><circle cx="471.9" cy="835.5" r="4"/><circle cx="494.2" cy="833.6" r="4"/><circle cx="498.3" cy="835.5" r="4"/><circle cx="500.7" cy="840.3" r="4"/><circle cx="476.0" cy="840.6" r="4"/><circle cx="478.6" cy="841.7" r="4"/><circle cx="454.9" cy="843.5" r="4"/><circle cx="459.3" cy="844.6" r="4"/><circle cx="430.2" cy="844.2" r="4"/><circle cx="422.9" cy="848.1" r="4"/><circle cx="441.1" cy="849.0" r="4"/><circle cx="481.8" cy="848.1" r="4"/><circle cx="490.6" cy="845.7" r="4"/><circle cx="497.1" cy="848.1" r="4"/><circle cx="504.7" cy="850.8" r="4"/><circle cx="504.4" cy="852.9" r="4"/><circle cx="427.3" cy="853.2" r="4"/><circle cx="455.6" cy="853.7" r="4"/><circle cx="457.1" cy="855.4" r="4"/><circle cx="468.0" cy="856.6" r="4"/><circle cx="476.7" cy="858.8" r="4"/><circle cx="480.4" cy="859.2" r="4"/><circle cx="497.8" cy="857.7" r="4"/><circle cx="588.7" cy="841.3" r="4"/><circle cx="596.7" cy="842.8" r="4"/><circle cx="585.1" cy="848.1" r="4"/><circle cx="607.6" cy="847.8" r="4"/><circle cx="613.5" cy="850.8" r="4"/><circle cx="591.6" cy="856.6" r="4"/><circle cx="590.2" cy="843.5" r="4"/><circle cx="433.1" cy="859.5" r="4"/><circle cx="436.0" cy="863.8" r="4"/><circle cx="442.6" cy="862.4" r="4"/><circle cx="436.0" cy="868.2" r="4"/><circle cx="488.4" cy="865.3" r="4"/><circle cx="490.6" cy="863.8" r="4"/><circle cx="454.9" cy="870.4" r="4"/><circle cx="462.2" cy="869.7" r="4"/><circle cx="465.1" cy="869.7" r="4"/><circle cx="418.6" cy="872.3" r="4"/><circle cx="423.6" cy="874.8" r="4"/><circle cx="430.9" cy="880.6" r="4"/><circle cx="444.0" cy="874.0" r="4"/><circle cx="451.3" cy="876.9" r="4"/><circle cx="470.9" cy="875.5" r="4"/><circle cx="476.7" cy="873.3" r="4"/><circle cx="482.6" cy="874.0" r="4"/><circle cx="497.1" cy="871.1" r="4"/><circle cx="500.0" cy="874.0" r="4"/><circle cx="509.5" cy="874.8" r="4"/><circle cx="491.3" cy="878.4" r="4"/><circle cx="488.4" cy="869.7" r="4"/><circle cx="555.3" cy="870.4" r="4"/><circle cx="569.8" cy="866.8" r="4"/><circle cx="577.8" cy="870.0" r="4"/><circle cx="585.1" cy="878.4" r="4"/><circle cx="593.1" cy="867.5" r="4"/><circle cx="595.3" cy="869.7" r="4"/><circle cx="594.6" cy="880.6" r="4"/><circle cx="603.3" cy="876.6" r="4"/><circle cx="611.3" cy="874.8" r="4"/><circle cx="610.6" cy="880.6" r="4"/><circle cx="552.4" cy="879.8" r="4"/><circle cx="556.7" cy="882.8" r="4"/><circle cx="440.4" cy="887.8" r="4"/><circle cx="456.4" cy="885.7" r="4"/><circle cx="462.2" cy="884.2" r="4"/><circle cx="469.5" cy="887.1" r="4"/><circle cx="482.6" cy="887.1" r="4"/><circle cx="486.9" cy="888.6" r="4"/><circle cx="496.4" cy="890.0" r="4"/><circle cx="505.8" cy="889.3" r="4"/><circle cx="516.0" cy="884.9" r="4"/><circle cx="526.2" cy="884.9" r="4"/><circle cx="534.9" cy="884.9" r="4"/><circle cx="546.6" cy="884.9" r="4"/><circle cx="548.0" cy="887.1" r="4"/><circle cx="596.7" cy="887.1" r="4"/><circle cx="597.5" cy="890.0" r="4"/><circle cx="639.6" cy="883.5" r="4"/><circle cx="447.6" cy="898.8" r="4"/><circle cx="450.6" cy="896.6" r="4"/><circle cx="456.4" cy="898.8" r="4"/><circle cx="459.3" cy="895.8" r="4"/><circle cx="465.1" cy="897.3" r="4"/><circle cx="470.9" cy="901.7" r="4"/><circle cx="476.7" cy="894.4" r="4"/><circle cx="485.5" cy="897.3" r="4"/><circle cx="494.2" cy="900.2" r="4"/><circle cx="501.5" cy="895.8" r="4"/><circle cx="508.7" cy="898.8" r="4"/><circle cx="514.6" cy="897.3" r="4"/><circle cx="524.7" cy="895.8" r="4"/><circle cx="532.0" cy="900.2" r="4"/><circle cx="539.3" cy="901.7" r="4"/><circle cx="548.0" cy="897.3" r="4"/><circle cx="550.9" cy="900.2" r="4"/><circle cx="563.3" cy="900.9" r="4"/><circle cx="564.0" cy="892.9" r="4"/><circle cx="569.8" cy="889.3" r="4"/><circle cx="572.7" cy="898.0" r="4"/><circle cx="580.7" cy="898.0" r="4"/><circle cx="586.6" cy="896.6" r="4"/><circle cx="596.7" cy="896.6" r="4"/><circle cx="609.1" cy="893.7" r="4"/><circle cx="619.3" cy="898.0" r="4"/><circle cx="450.6" cy="910.4" r="4"/><circle cx="460.0" cy="906.0" r="4"/><circle cx="462.2" cy="910.4" r="4"/><circle cx="465.1" cy="908.9" r="4"/><circle cx="473.8" cy="913.3" r="4"/><circle cx="481.1" cy="908.9" r="4"/><circle cx="488.4" cy="908.9" r="4"/><circle cx="494.2" cy="911.8" r="4"/><circle cx="502.9" cy="906.0" r="4"/><circle cx="508.7" cy="911.8" r="4"/><circle cx="517.5" cy="908.9" r="4"/><circle cx="526.2" cy="911.8" r="4"/><circle cx="534.9" cy="908.9" r="4"/><circle cx="540.7" cy="906.0" r="4"/><circle cx="546.6" cy="910.4" r="4"/><circle cx="553.8" cy="908.9" r="4"/><circle cx="558.2" cy="911.8" r="4"/><circle cx="566.9" cy="910.4" r="4"/><circle cx="572.7" cy="914.8" r="4"/><circle cx="601.1" cy="908.9" r="4"/><circle cx="637.5" cy="905.3" r="4"/><circle cx="415.6" cy="916.2" r="4"/><circle cx="432.4" cy="919.1" r="4"/><circle cx="449.1" cy="919.8" r="4"/><circle cx="463.6" cy="919.1" r="4"/><circle cx="468.0" cy="924.9" r="4"/><circle cx="479.6" cy="924.2" r="4"/><circle cx="488.4" cy="922.0" r="4"/><circle cx="495.6" cy="920.6" r="4"/><circle cx="502.9" cy="917.7" r="4"/><circle cx="510.2" cy="920.6" r="4"/><circle cx="517.5" cy="922.0" r="4"/><circle cx="524.7" cy="917.7" r="4"/><circle cx="532.0" cy="922.0" r="4"/><circle cx="539.3" cy="919.1" r="4"/><circle cx="546.6" cy="922.0" r="4"/><circle cx="553.8" cy="919.1" r="4"/><circle cx="561.1" cy="922.0" r="4"/><circle cx="569.8" cy="919.1" r="4"/><circle cx="604.7" cy="919.1" r="4"/><circle cx="633.8" cy="923.9" r="4"/><circle cx="431.6" cy="927.8" r="4"/><circle cx="436.0" cy="929.3" r="4"/><circle cx="455.6" cy="929.3" r="4"/><circle cx="470.9" cy="925.7" r="4"/><circle cx="488.4" cy="929.3" r="4"/><circle cx="497.1" cy="927.8" r="4"/><circle cx="502.9" cy="929.3" r="4"/><circle cx="510.2" cy="930.8" r="4"/><circle cx="517.5" cy="931.5" r="4"/><circle cx="524.7" cy="930.8" r="4"/><circle cx="532.0" cy="930.0" r="4"/><circle cx="539.3" cy="929.3" r="4"/><circle cx="548.0" cy="931.5" r="4"/><circle cx="555.3" cy="928.6" r="4"/><circle cx="571.3" cy="929.0" r="4"/><circle cx="526.6" cy="908.5" r="4"/><circle cx="518.6" cy="926.3" r="4"/><circle cx="533.1" cy="930.9" r="4"/><circle cx="529.5" cy="909.7" r="4"/><circle cx="510.4" cy="925.8" r="4"/><circle cx="501.3" cy="916.8" r="4"/><circle cx="533.9" cy="908.7" r="4"/><circle cx="536.9" cy="910.9" r="4"/><circle cx="510.8" cy="917.0" r="4"/><circle cx="520.7" cy="905.9" r="4"/><circle cx="545.0" cy="921.3" r="4"/><circle cx="505.8" cy="916.5" r="4"/><circle cx="525.8" cy="928.1" r="4"/><circle cx="518.2" cy="923.6" r="4"/><circle cx="542.9" cy="916.5" r="4"/><circle cx="537.9" cy="917.3" r="4"/><circle cx="529.7" cy="912.0" r="4"/><circle cx="548.2" cy="930.8" r="4"/><circle cx="522.2" cy="920.0" r="4"/><circle cx="534.5" cy="932.7" r="4"/><circle cx="515.9" cy="920.2" r="4"/><circle cx="492.6" cy="924.0" r="4"/><circle cx="516.2" cy="928.0" r="4"/><circle cx="527.5" cy="928.4" r="4"/><circle cx="546.8" cy="927.7" r="4"/><circle cx="508.2" cy="910.4" r="4"/><circle cx="513.9" cy="928.5" r="4"/><circle cx="505.0" cy="913.1" r="4"/><circle cx="530.4" cy="904.5" r="4"/><circle cx="514.7" cy="916.2" r="4"/><circle cx="525.1" cy="918.2" r="4"/><circle cx="550.7" cy="925.1" r="4"/><circle cx="516.3" cy="909.8" r="4"/><circle cx="490.2" cy="928.1" r="4"/><circle cx="548.9" cy="932.7" r="4"/><circle cx="521.6" cy="913.0" r="4"/><circle cx="512.8" cy="904.6" r="4"/><circle cx="490.0" cy="931.0" r="4"/><circle cx="526.0" cy="900.0" r="4"/><circle cx="526.0" cy="932.1" r="4"/><circle cx="507.0" cy="908.5" r="4"/><circle cx="500.3" cy="924.1" r="4"/><circle cx="526.3" cy="924.4" r="4"/><circle cx="511.9" cy="903.0" r="4"/><circle cx="546.2" cy="932.4" r="4"/><circle cx="549.1" cy="925.5" r="4"/><circle cx="546.7" cy="922.9" r="4"/><circle cx="504.5" cy="914.3" r="4"/><circle cx="506.8" cy="921.1" r="4"/><circle cx="555.2" cy="932.5" r="4"/><circle cx="532.9" cy="929.1" r="4"/><circle cx="534.9" cy="925.2" r="4"/><circle cx="501.1" cy="924.8" r="4"/><circle cx="512.1" cy="925.3" r="4"/><circle cx="517.0" cy="930.9" r="4"/><circle cx="552.9" cy="925.5" r="4"/><circle cx="498.8" cy="926.2" r="4"/><circle cx="513.3" cy="915.5" r="4"/><circle cx="525.9" cy="930.4" r="4"/><circle cx="519.3" cy="928.0" r="4"/><circle cx="505.5" cy="917.0" r="4"/><circle cx="506.9" cy="910.5" r="4"/><circle cx="497.7" cy="929.5" r="4"/><circle cx="513.6" cy="912.1" r="4"/><circle cx="529.9" cy="929.2" r="4"/><circle cx="518.4" cy="929.8" r="4"/><circle cx="524.1" cy="914.9" r="4"/><circle cx="519.7" cy="901.4" r="4"/><circle cx="540.1" cy="915.8" r="4"/><circle cx="511.6" cy="914.4" r="4"/><circle cx="528.0" cy="924.6" r="4"/><circle cx="528.4" cy="923.7" r="4"/><circle cx="532.0" cy="913.9" r="4"/><circle cx="524.9" cy="921.1" r="4"/><circle cx="520.6" cy="914.9" r="4"/><circle cx="522.4" cy="930.7" r="4"/><circle cx="538.2" cy="928.2" r="4"/><circle cx="528.3" cy="930.7" r="4"/><circle cx="544.2" cy="929.0" r="4"/><circle cx="499.4" cy="922.0" r="4"/><circle cx="551.3" cy="931.7" r="4"/><circle cx="504.0" cy="931.1" r="4"/><circle cx="516.8" cy="913.2" r="4"/><circle cx="525.1" cy="907.5" r="4"/><circle cx="527.9" cy="911.4" r="4"/><circle cx="532.8" cy="914.1" r="4"/><circle cx="493.0" cy="932.4" r="4"/><circle cx="544.6" cy="931.8" r="4"/><circle cx="518.5" cy="929.5" r="4"/><circle cx="499.0" cy="929.8" r="4"/><circle cx="529.0" cy="921.4" r="4"/><circle cx="537.4" cy="910.8" r="4"/><circle cx="493.5" cy="930.6" r="4"/><circle cx="533.6" cy="925.3" r="4"/><circle cx="494.3" cy="927.4" r="4"/><circle cx="493.1" cy="927.6" r="4"/><circle cx="520.7" cy="907.5" r="4"/><circle cx="527.8" cy="930.1" r="4"/><circle cx="525.9" cy="903.6" r="4"/><circle cx="510.6" cy="906.1" r="4"/><circle cx="524.0" cy="901.2" r="4"/><circle cx="540.6" cy="915.6" r="4"/><circle cx="523.7" cy="926.6" r="4"/><circle cx="516.4" cy="913.9" r="4"/><circle cx="537.4" cy="932.3" r="4"/><circle cx="512.8" cy="926.5" r="4"/><circle cx="538.7" cy="918.9" r="4"/><circle cx="517.2" cy="907.8" r="4"/><circle cx="478.3" cy="890.9" r="4"/><circle cx="487.6" cy="870.7" r="4"/><circle cx="479.0" cy="894.4" r="4"/><circle cx="518.5" cy="888.4" r="4"/><circle cx="488.9" cy="873.5" r="4"/><circle cx="489.4" cy="881.0" r="4"/><circle cx="482.6" cy="880.6" r="4"/><circle cx="487.9" cy="898.6" r="4"/><circle cx="523.6" cy="884.1" r="4"/><circle cx="487.0" cy="898.7" r="4"/><circle cx="490.3" cy="877.5" r="4"/><circle cx="474.8" cy="878.3" r="4"/><circle cx="498.6" cy="882.6" r="4"/><circle cx="484.8" cy="882.6" r="4"/><circle cx="474.9" cy="874.2" r="4"/><circle cx="479.2" cy="879.0" r="4"/><circle cx="476.8" cy="865.8" r="4"/><circle cx="490.0" cy="873.1" r="4"/><circle cx="504.2" cy="883.5" r="4"/><circle cx="512.5" cy="888.0" r="4"/><circle cx="510.7" cy="895.7" r="4"/><circle cx="494.3" cy="876.4" r="4"/><circle cx="516.6" cy="868.5" r="4"/><circle cx="502.6" cy="888.6" r="4"/><circle cx="466.0" cy="896.4" r="4"/><circle cx="511.6" cy="887.9" r="4"/><circle cx="503.1" cy="895.5" r="4"/><circle cx="471.1" cy="883.7" r="4"/><circle cx="490.8" cy="896.4" r="4"/><circle cx="507.0" cy="896.0" r="4"/><circle cx="495.1" cy="898.8" r="4"/><circle cx="500.4" cy="890.6" r="4"/><circle cx="476.0" cy="863.7" r="4"/><circle cx="470.8" cy="877.1" r="4"/><circle cx="469.3" cy="896.4" r="4"/><circle cx="493.7" cy="888.0" r="4"/><circle cx="497.3" cy="890.1" r="4"/><circle cx="490.0" cy="862.5" r="4"/><circle cx="506.6" cy="892.9" r="4"/><circle cx="490.7" cy="884.2" r="4"/><circle cx="499.1" cy="865.1" r="4"/><circle cx="503.3" cy="872.7" r="4"/><circle cx="467.7" cy="873.2" r="4"/><circle cx="502.9" cy="870.7" r="4"/><circle cx="543.8" cy="774.6" r="4"/><circle cx="690.4" cy="844.0" r="4"/><circle cx="646.4" cy="864.5" r="4"/><circle cx="679.8" cy="864.8" r="4"/><circle cx="641.6" cy="883.4" r="4"/><circle cx="637.9" cy="905.3" r="4"/><circle cx="633.6" cy="924.0" r="4"/><circle cx="295.1" cy="863.7" r="4"/><circle cx="327.8" cy="864.9" r="4"/><circle cx="282.2" cy="923.6" r="4"/><circle cx="354.4" cy="930.9" r="4"/><circle cx="393.2" cy="856.5" r="4"/><circle cx="394.4" cy="866.1" r="4"/><circle cx="415.8" cy="915.8" r="4"/><circle cx="421.1" cy="847.3" r="4"/><circle cx="429.1" cy="853.3" r="4"/><circle cx="434.1" cy="861.3" r="4"/><circle cx="437.1" cy="867.3" r="4"/><circle cx="423.5" cy="874.6" r="4"/><circle cx="430.8" cy="879.3" r="4"/><circle cx="440.5" cy="886.8" r="4"/><circle cx="432.1" cy="919.3" r="4"/><circle cx="433.1" cy="927.3" r="4"/><circle cx="449.1" cy="919.3" r="4"/><circle cx="455.1" cy="929.3" r="4"/></g>
<g fill="#c00000"><circle cx="290.9" cy="645.2" r="3.95"/><circle cx="366.0" cy="729.0" r="3.95"/><circle cx="382.4" cy="763.5" r="3.95"/><circle cx="423.6" cy="750.9" r="3.95"/><circle cx="436.5" cy="749.0" r="3.95"/><circle cx="429.7" cy="757.0" r="3.95"/><circle cx="343.2" cy="786.0" r="3.95"/><circle cx="367.4" cy="793.3" r="3.95"/><circle cx="415.9" cy="778.3" r="3.95"/><circle cx="423.6" cy="780.2" r="3.95"/><circle cx="443.8" cy="783.2" r="3.95"/><circle cx="439.4" cy="793.3" r="3.95"/><circle cx="393.8" cy="812.0" r="3.95"/><circle cx="400.6" cy="811.0" r="3.95"/><circle cx="404.2" cy="820.0" r="3.95"/><circle cx="403.0" cy="823.6" r="3.95"/><circle cx="361.8" cy="818.0" r="3.95"/><circle cx="384.1" cy="820.7" r="3.95"/><circle cx="427.3" cy="820.7" r="3.95"/><circle cx="435.3" cy="821.2" r="3.95"/><circle cx="447.9" cy="818.3" r="3.95"/><circle cx="350.9" cy="832.1" r="3.95"/><circle cx="374.7" cy="840.1" r="3.95"/><circle cx="277.0" cy="839.4" r="3.95"/><circle cx="289.6" cy="836.2" r="3.95"/><circle cx="428.5" cy="838.9" r="3.95"/><circle cx="437.0" cy="837.0" r="3.95"/><circle cx="437.7" cy="839.9" r="3.95"/><circle cx="401.5" cy="810.9" r="3.95"/><circle cx="680.4" cy="687.3" r="3.95"/><circle cx="696.9" cy="678.5" r="3.95"/><circle cx="870.2" cy="707.8" r="3.95"/><circle cx="632.8" cy="824.3" r="3.95"/><circle cx="648.8" cy="820.5" r="3.95"/><circle cx="659.2" cy="833.3" r="3.95"/><circle cx="662.1" cy="833.9" r="3.95"/><circle cx="697.3" cy="830.1" r="3.95"/><circle cx="590.6" cy="839.0" r="3.95"/></g>
<g fill="#0a70c2"><circle cx="539.9" cy="810.9" r="3.6"/><circle cx="567.7" cy="827.6" r="3.6"/><circle cx="470.8" cy="834.2" r="3.6"/><circle cx="493.1" cy="832.3" r="3.6"/><circle cx="497.2" cy="834.2" r="3.6"/><circle cx="499.6" cy="839.0" r="3.6"/><circle cx="474.9" cy="839.3" r="3.6"/><circle cx="477.5" cy="840.4" r="3.6"/><circle cx="453.8" cy="842.2" r="3.6"/><circle cx="458.2" cy="843.3" r="3.6"/><circle cx="429.1" cy="842.9" r="3.6"/><circle cx="421.8" cy="846.8" r="3.6"/><circle cx="440.0" cy="847.7" r="3.6"/><circle cx="480.7" cy="846.8" r="3.6"/><circle cx="489.5" cy="844.4" r="3.6"/><circle cx="496.0" cy="846.8" r="3.6"/><circle cx="503.6" cy="849.5" r="3.6"/><circle cx="503.3" cy="851.6" r="3.6"/><circle cx="426.2" cy="851.9" r="3.6"/><circle cx="454.5" cy="852.4" r="3.6"/><circle cx="456.0" cy="854.1" r="3.6"/><circle cx="466.9" cy="855.3" r="3.6"/><circle cx="475.6" cy="857.5" r="3.6"/><circle cx="479.3" cy="857.9" r="3.6"/><circle cx="496.7" cy="856.4" r="3.6"/><circle cx="587.6" cy="840.0" r="3.6"/><circle cx="595.6" cy="841.5" r="3.6"/><circle cx="584.0" cy="846.8" r="3.6"/><circle cx="606.5" cy="846.5" r="3.6"/><circle cx="612.4" cy="849.5" r="3.6"/><circle cx="590.5" cy="855.3" r="3.6"/><circle cx="589.1" cy="842.2" r="3.6"/><circle cx="432.0" cy="858.2" r="3.6"/><circle cx="434.9" cy="862.5" r="3.6"/><circle cx="441.5" cy="861.1" r="3.6"/><circle cx="434.9" cy="866.9" r="3.6"/><circle cx="487.3" cy="864.0" r="3.6"/><circle cx="489.5" cy="862.5" r="3.6"/><circle cx="453.8" cy="869.1" r="3.6"/><circle cx="461.1" cy="868.4" r="3.6"/><circle cx="464.0" cy="868.4" r="3.6"/><circle cx="417.5" cy="871.0" r="3.6"/><circle cx="422.5" cy="873.5" r="3.6"/><circle cx="429.8" cy="879.3" r="3.6"/><circle cx="442.9" cy="872.7" r="3.6"/><circle cx="450.2" cy="875.6" r="3.6"/><circle cx="469.8" cy="874.2" r="3.6"/><circle cx="475.6" cy="872.0" r="3.6"/><circle cx="481.5" cy="872.7" r="3.6"/><circle cx="496.0" cy="869.8" r="3.6"/><circle cx="498.9" cy="872.7" r="3.6"/><circle cx="508.4" cy="873.5" r="3.6"/><circle cx="490.2" cy="877.1" r="3.6"/><circle cx="487.3" cy="868.4" r="3.6"/><circle cx="554.2" cy="869.1" r="3.6"/><circle cx="568.7" cy="865.5" r="3.6"/><circle cx="576.7" cy="868.7" r="3.6"/><circle cx="584.0" cy="877.1" r="3.6"/><circle cx="592.0" cy="866.2" r="3.6"/><circle cx="594.2" cy="868.4" r="3.6"/><circle cx="593.5" cy="879.3" r="3.6"/><circle cx="602.2" cy="875.3" r="3.6"/><circle cx="610.2" cy="873.5" r="3.6"/><circle cx="609.5" cy="879.3" r="3.6"/><circle cx="551.3" cy="878.5" r="3.6"/><circle cx="555.6" cy="881.5" r="3.6"/><circle cx="439.3" cy="886.5" r="3.6"/><circle cx="455.3" cy="884.4" r="3.6"/><circle cx="461.1" cy="882.9" r="3.6"/><circle cx="468.4" cy="885.8" r="3.6"/><circle cx="481.5" cy="885.8" r="3.6"/><circle cx="485.8" cy="887.3" r="3.6"/><circle cx="495.3" cy="888.7" r="3.6"/><circle cx="504.7" cy="888.0" r="3.6"/><circle cx="514.9" cy="883.6" r="3.6"/><circle cx="525.1" cy="883.6" r="3.6"/><circle cx="533.8" cy="883.6" r="3.6"/><circle cx="545.5" cy="883.6" r="3.6"/><circle cx="546.9" cy="885.8" r="3.6"/><circle cx="595.6" cy="885.8" r="3.6"/><circle cx="596.4" cy="888.7" r="3.6"/><circle cx="638.5" cy="882.2" r="3.6"/><circle cx="446.5" cy="897.5" r="3.6"/><circle cx="449.5" cy="895.3" r="3.6"/><circle cx="455.3" cy="897.5" r="3.6"/><circle cx="458.2" cy="894.5" r="3.6"/><circle cx="464.0" cy="896.0" r="3.6"/><circle cx="469.8" cy="900.4" r="3.6"/><circle cx="475.6" cy="893.1" r="3.6"/><circle cx="484.4" cy="896.0" r="3.6"/><circle cx="493.1" cy="898.9" r="3.6"/><circle cx="500.4" cy="894.5" r="3.6"/><circle cx="507.6" cy="897.5" r="3.6"/><circle cx="513.5" cy="896.0" r="3.6"/><circle cx="523.6" cy="894.5" r="3.6"/><circle cx="530.9" cy="898.9" r="3.6"/><circle cx="538.2" cy="900.4" r="3.6"/><circle cx="546.9" cy="896.0" r="3.6"/><circle cx="549.8" cy="898.9" r="3.6"/><circle cx="562.2" cy="899.6" r="3.6"/><circle cx="562.9" cy="891.6" r="3.6"/><circle cx="568.7" cy="888.0" r="3.6"/><circle cx="571.6" cy="896.7" r="3.6"/><circle cx="579.6" cy="896.7" r="3.6"/><circle cx="585.5" cy="895.3" r="3.6"/><circle cx="595.6" cy="895.3" r="3.6"/><circle cx="608.0" cy="892.4" r="3.6"/><circle cx="618.2" cy="896.7" r="3.6"/><circle cx="449.5" cy="909.1" r="3.6"/><circle cx="458.9" cy="904.7" r="3.6"/><circle cx="461.1" cy="909.1" r="3.6"/><circle cx="464.0" cy="907.6" r="3.6"/><circle cx="472.7" cy="912.0" r="3.6"/><circle cx="480.0" cy="907.6" r="3.6"/><circle cx="487.3" cy="907.6" r="3.6"/><circle cx="493.1" cy="910.5" r="3.6"/><circle cx="501.8" cy="904.7" r="3.6"/><circle cx="507.6" cy="910.5" r="3.6"/><circle cx="516.4" cy="907.6" r="3.6"/><circle cx="525.1" cy="910.5" r="3.6"/><circle cx="533.8" cy="907.6" r="3.6"/><circle cx="539.6" cy="904.7" r="3.6"/><circle cx="545.5" cy="909.1" r="3.6"/><circle cx="552.7" cy="907.6" r="3.6"/><circle cx="557.1" cy="910.5" r="3.6"/><circle cx="565.8" cy="909.1" r="3.6"/><circle cx="571.6" cy="913.5" r="3.6"/><circle cx="600.0" cy="907.6" r="3.6"/><circle cx="636.4" cy="904.0" r="3.6"/><circle cx="414.5" cy="914.9" r="3.6"/><circle cx="431.3" cy="917.8" r="3.6"/><circle cx="448.0" cy="918.5" r="3.6"/><circle cx="462.5" cy="917.8" r="3.6"/><circle cx="466.9" cy="923.6" r="3.6"/><circle cx="478.5" cy="922.9" r="3.6"/><circle cx="487.3" cy="920.7" r="3.6"/><circle cx="494.5" cy="919.3" r="3.6"/><circle cx="501.8" cy="916.4" r="3.6"/><circle cx="509.1" cy="919.3" r="3.6"/><circle cx="516.4" cy="920.7" r="3.6"/><circle cx="523.6" cy="916.4" r="3.6"/><circle cx="530.9" cy="920.7" r="3.6"/><circle cx="538.2" cy="917.8" r="3.6"/><circle cx="545.5" cy="920.7" r="3.6"/><circle cx="552.7" cy="917.8" r="3.6"/><circle cx="560.0" cy="920.7" r="3.6"/><circle cx="568.7" cy="917.8" r="3.6"/><circle cx="603.6" cy="917.8" r="3.6"/><circle cx="632.7" cy="922.6" r="3.6"/><circle cx="430.5" cy="926.5" r="3.6"/><circle cx="434.9" cy="928.0" r="3.6"/><circle cx="454.5" cy="928.0" r="3.6"/><circle cx="469.8" cy="924.4" r="3.6"/><circle cx="487.3" cy="928.0" r="3.6"/><circle cx="496.0" cy="926.5" r="3.6"/><circle cx="501.8" cy="928.0" r="3.6"/><circle cx="509.1" cy="929.5" r="3.6"/><circle cx="516.4" cy="930.2" r="3.6"/><circle cx="523.6" cy="929.5" r="3.6"/><circle cx="530.9" cy="928.7" r="3.6"/><circle cx="538.2" cy="928.0" r="3.6"/><circle cx="546.9" cy="930.2" r="3.6"/><circle cx="554.2" cy="927.3" r="3.6"/><circle cx="570.2" cy="927.7" r="3.6"/><circle cx="525.5" cy="907.2" r="3.6"/><circle cx="517.5" cy="925.0" r="3.6"/><circle cx="532.0" cy="929.6" r="3.6"/><circle cx="528.4" cy="908.4" r="3.6"/><circle cx="509.3" cy="924.5" r="3.6"/><circle cx="500.2" cy="915.5" r="3.6"/><circle cx="532.8" cy="907.4" r="3.6"/><circle cx="535.8" cy="909.6" r="3.6"/><circle cx="509.7" cy="915.7" r="3.6"/><circle cx="519.6" cy="904.6" r="3.6"/><circle cx="543.9" cy="920.0" r="3.6"/><circle cx="504.7" cy="915.2" r="3.6"/><circle cx="524.7" cy="926.8" r="3.6"/><circle cx="517.1" cy="922.3" r="3.6"/><circle cx="541.8" cy="915.2" r="3.6"/><circle cx="536.8" cy="916.0" r="3.6"/><circle cx="528.6" cy="910.7" r="3.6"/><circle cx="547.1" cy="929.5" r="3.6"/><circle cx="521.1" cy="918.7" r="3.6"/><circle cx="533.4" cy="931.4" r="3.6"/><circle cx="514.8" cy="918.9" r="3.6"/><circle cx="491.5" cy="922.7" r="3.6"/><circle cx="515.1" cy="926.7" r="3.6"/><circle cx="526.4" cy="927.1" r="3.6"/><circle cx="545.7" cy="926.4" r="3.6"/><circle cx="507.1" cy="909.1" r="3.6"/><circle cx="512.8" cy="927.2" r="3.6"/><circle cx="503.9" cy="911.8" r="3.6"/><circle cx="529.3" cy="903.2" r="3.6"/><circle cx="513.6" cy="914.9" r="3.6"/><circle cx="524.0" cy="916.9" r="3.6"/><circle cx="549.6" cy="923.8" r="3.6"/><circle cx="515.2" cy="908.5" r="3.6"/><circle cx="489.1" cy="926.8" r="3.6"/><circle cx="547.8" cy="931.4" r="3.6"/><circle cx="520.5" cy="911.7" r="3.6"/><circle cx="511.7" cy="903.3" r="3.6"/><circle cx="488.9" cy="929.7" r="3.6"/><circle cx="524.9" cy="898.7" r="3.6"/><circle cx="524.9" cy="930.8" r="3.6"/><circle cx="505.9" cy="907.2" r="3.6"/><circle cx="499.2" cy="922.8" r="3.6"/><circle cx="525.2" cy="923.1" r="3.6"/><circle cx="510.8" cy="901.7" r="3.6"/><circle cx="545.1" cy="931.1" r="3.6"/><circle cx="548.0" cy="924.2" r="3.6"/><circle cx="545.6" cy="921.6" r="3.6"/><circle cx="503.4" cy="913.0" r="3.6"/><circle cx="505.7" cy="919.8" r="3.6"/><circle cx="554.1" cy="931.2" r="3.6"/><circle cx="531.8" cy="927.8" r="3.6"/><circle cx="533.8" cy="923.9" r="3.6"/><circle cx="500.0" cy="923.5" r="3.6"/><circle cx="511.0" cy="924.0" r="3.6"/><circle cx="515.9" cy="929.6" r="3.6"/><circle cx="551.8" cy="924.2" r="3.6"/><circle cx="497.7" cy="924.9" r="3.6"/><circle cx="512.2" cy="914.2" r="3.6"/><circle cx="524.8" cy="929.1" r="3.6"/><circle cx="518.2" cy="926.7" r="3.6"/><circle cx="504.4" cy="915.7" r="3.6"/><circle cx="505.8" cy="909.2" r="3.6"/><circle cx="496.6" cy="928.2" r="3.6"/><circle cx="512.5" cy="910.8" r="3.6"/><circle cx="528.8" cy="927.9" r="3.6"/><circle cx="517.3" cy="928.5" r="3.6"/><circle cx="523.0" cy="913.6" r="3.6"/><circle cx="518.6" cy="900.1" r="3.6"/><circle cx="539.0" cy="914.5" r="3.6"/><circle cx="510.5" cy="913.1" r="3.6"/><circle cx="526.9" cy="923.3" r="3.6"/><circle cx="527.3" cy="922.4" r="3.6"/><circle cx="530.9" cy="912.6" r="3.6"/><circle cx="523.8" cy="919.8" r="3.6"/><circle cx="519.5" cy="913.6" r="3.6"/><circle cx="521.3" cy="929.4" r="3.6"/><circle cx="537.1" cy="926.9" r="3.6"/><circle cx="527.2" cy="929.4" r="3.6"/><circle cx="543.1" cy="927.7" r="3.6"/><circle cx="498.3" cy="920.7" r="3.6"/><circle cx="550.2" cy="930.4" r="3.6"/><circle cx="502.9" cy="929.8" r="3.6"/><circle cx="515.7" cy="911.9" r="3.6"/><circle cx="524.0" cy="906.2" r="3.6"/><circle cx="526.8" cy="910.1" r="3.6"/><circle cx="531.7" cy="912.8" r="3.6"/><circle cx="491.9" cy="931.1" r="3.6"/><circle cx="543.5" cy="930.5" r="3.6"/><circle cx="517.4" cy="928.2" r="3.6"/><circle cx="497.9" cy="928.5" r="3.6"/><circle cx="527.9" cy="920.1" r="3.6"/><circle cx="536.3" cy="909.5" r="3.6"/><circle cx="492.4" cy="929.3" r="3.6"/><circle cx="532.5" cy="924.0" r="3.6"/><circle cx="493.2" cy="926.1" r="3.6"/><circle cx="492.0" cy="926.3" r="3.6"/><circle cx="519.6" cy="906.2" r="3.6"/><circle cx="526.7" cy="928.8" r="3.6"/><circle cx="524.8" cy="902.3" r="3.6"/><circle cx="509.5" cy="904.8" r="3.6"/><circle cx="522.9" cy="899.9" r="3.6"/><circle cx="539.5" cy="914.3" r="3.6"/><circle cx="522.6" cy="925.3" r="3.6"/><circle cx="515.3" cy="912.6" r="3.6"/><circle cx="536.3" cy="931.0" r="3.6"/><circle cx="511.7" cy="925.2" r="3.6"/><circle cx="537.6" cy="917.6" r="3.6"/><circle cx="516.1" cy="906.5" r="3.6"/><circle cx="477.2" cy="889.6" r="3.6"/><circle cx="486.5" cy="869.4" r="3.6"/><circle cx="477.9" cy="893.1" r="3.6"/><circle cx="517.4" cy="887.1" r="3.6"/><circle cx="487.8" cy="872.2" r="3.6"/><circle cx="488.3" cy="879.7" r="3.6"/><circle cx="481.5" cy="879.3" r="3.6"/><circle cx="486.8" cy="897.3" r="3.6"/><circle cx="522.5" cy="882.8" r="3.6"/><circle cx="485.9" cy="897.4" r="3.6"/><circle cx="489.2" cy="876.2" r="3.6"/><circle cx="473.7" cy="877.0" r="3.6"/><circle cx="497.5" cy="881.3" r="3.6"/><circle cx="483.7" cy="881.3" r="3.6"/><circle cx="473.8" cy="872.9" r="3.6"/><circle cx="478.1" cy="877.7" r="3.6"/><circle cx="475.7" cy="864.5" r="3.6"/><circle cx="488.9" cy="871.8" r="3.6"/><circle cx="503.1" cy="882.2" r="3.6"/><circle cx="511.4" cy="886.7" r="3.6"/><circle cx="509.6" cy="894.4" r="3.6"/><circle cx="493.2" cy="875.1" r="3.6"/><circle cx="515.5" cy="867.2" r="3.6"/><circle cx="501.5" cy="887.3" r="3.6"/><circle cx="464.9" cy="895.1" r="3.6"/><circle cx="510.5" cy="886.6" r="3.6"/><circle cx="502.0" cy="894.2" r="3.6"/><circle cx="470.0" cy="882.4" r="3.6"/><circle cx="489.7" cy="895.1" r="3.6"/><circle cx="505.9" cy="894.7" r="3.6"/><circle cx="494.0" cy="897.5" r="3.6"/><circle cx="499.3" cy="889.3" r="3.6"/><circle cx="474.9" cy="862.4" r="3.6"/><circle cx="469.7" cy="875.8" r="3.6"/><circle cx="468.2" cy="895.1" r="3.6"/><circle cx="492.6" cy="886.7" r="3.6"/><circle cx="496.2" cy="888.8" r="3.6"/><circle cx="488.9" cy="861.2" r="3.6"/><circle cx="505.5" cy="891.6" r="3.6"/><circle cx="489.6" cy="882.9" r="3.6"/><circle cx="498.0" cy="863.8" r="3.6"/><circle cx="502.2" cy="871.4" r="3.6"/><circle cx="466.6" cy="871.9" r="3.6"/><circle cx="501.8" cy="869.4" r="3.6"/><circle cx="542.7" cy="773.3" r="3.6"/><circle cx="689.3" cy="842.7" r="3.6"/><circle cx="645.3" cy="863.2" r="3.6"/><circle cx="678.7" cy="863.5" r="3.6"/><circle cx="640.5" cy="882.1" r="3.6"/><circle cx="636.8" cy="904.0" r="3.6"/><circle cx="632.5" cy="922.7" r="3.6"/><circle cx="294.0" cy="862.4" r="3.6"/><circle cx="326.7" cy="863.6" r="3.6"/><circle cx="281.1" cy="922.3" r="3.6"/><circle cx="353.3" cy="929.6" r="3.6"/><circle cx="392.1" cy="855.2" r="3.6"/><circle cx="393.3" cy="864.8" r="3.6"/><circle cx="414.7" cy="914.5" r="3.6"/><circle cx="420.0" cy="846.0" r="3.6"/><circle cx="428.0" cy="852.0" r="3.6"/><circle cx="433.0" cy="860.0" r="3.6"/><circle cx="436.0" cy="866.0" r="3.6"/><circle cx="422.4" cy="873.3" r="3.6"/><circle cx="429.7" cy="878.0" r="3.6"/><circle cx="439.4" cy="885.5" r="3.6"/><circle cx="431.0" cy="918.0" r="3.6"/><circle cx="432.0" cy="926.0" r="3.6"/><circle cx="448.0" cy="918.0" r="3.6"/><circle cx="454.0" cy="928.0" r="3.6"/></g>
<text x="156.5" y="618.5" font-size="23.5" fill="#111" textLength="93.0" lengthAdjust="spacingAndGlyphs">PC(36:8)</text>
<text x="441.5" y="709.2" font-size="23.5" fill="#111" textLength="171.0" lengthAdjust="spacingAndGlyphs">SM(d18:2/22:1)</text>
<text x="166.5" y="750.3" font-size="23.5" fill="#111" textLength="172.0" lengthAdjust="spacingAndGlyphs">SM(d18:2/22:1)</text>
<text x="497.5" y="758.8" font-size="23.5" fill="#111" textLength="170.5" lengthAdjust="spacingAndGlyphs">SM(d18:1/16:0)</text>
<text x="144.5" y="794.5" font-size="23.5" fill="#111" textLength="171.0" lengthAdjust="spacingAndGlyphs">SM(d18:1/14:0)</text>
<text x="131.2" y="903.6" font-size="23.5" fill="#111" textLength="228.0" lengthAdjust="spacingAndGlyphs">SM(d18:1/24:1(15Z))</text>
<line x1="278.0" y1="637.6" x2="254.5" y2="620.0" stroke="#6b8fcf" stroke-width="1.3" />
<line x1="254.5" y1="620.0" x2="263.4" y2="621.4" stroke="#6b8fcf" stroke-width="1.3" />
<line x1="254.5" y1="620.0" x2="258.3" y2="628.1" stroke="#6b8fcf" stroke-width="1.3" />
<line x1="432.4" y1="740.7" x2="446.5" y2="710.7" stroke="#6b8fcf" stroke-width="1.3" />
<line x1="446.5" y1="710.7" x2="446.9" y2="719.7" stroke="#6b8fcf" stroke-width="1.3" />
<line x1="446.5" y1="710.7" x2="439.3" y2="716.1" stroke="#6b8fcf" stroke-width="1.3" />
<line x1="371.5" y1="759.4" x2="338.8" y2="743.6" stroke="#6b8fcf" stroke-width="1.3" />
<line x1="338.8" y1="743.6" x2="347.8" y2="743.3" stroke="#6b8fcf" stroke-width="1.3" />
<line x1="338.8" y1="743.6" x2="344.1" y2="750.9" stroke="#6b8fcf" stroke-width="1.3" />
<line x1="451.3" y1="773.0" x2="485.9" y2="760.4" stroke="#6b8fcf" stroke-width="1.3" />
<line x1="485.9" y1="760.4" x2="479.9" y2="767.1" stroke="#6b8fcf" stroke-width="1.3" />
<line x1="485.9" y1="760.4" x2="477.0" y2="759.1" stroke="#6b8fcf" stroke-width="1.3" />
<line x1="340.0" y1="784.4" x2="305.6" y2="795.3" stroke="#6b8fcf" stroke-width="1.3" />
<line x1="305.6" y1="795.3" x2="311.9" y2="788.9" stroke="#6b8fcf" stroke-width="1.3" />
<line x1="305.6" y1="795.3" x2="314.5" y2="796.9" stroke="#6b8fcf" stroke-width="1.3" />
<line x1="350.2" y1="846.2" x2="337.1" y2="878.7" stroke="#6b8fcf" stroke-width="1.3" />
<line x1="337.1" y1="878.7" x2="336.2" y2="869.8" stroke="#6b8fcf" stroke-width="1.3" />
<line x1="337.1" y1="878.7" x2="344.0" y2="872.9" stroke="#6b8fcf" stroke-width="1.3" />
<defs><clipPath id="vc1"><circle cx="1282.6" cy="726.3" r="138"/></clipPath><clipPath id="vc2"><circle cx="1417.2" cy="726.3" r="138"/></clipPath></defs>
<circle cx="1282.6" cy="726.3" r="138" fill="#fff0d4" />
<circle cx="1417.2" cy="726.3" r="138" fill="#e8fae6" />
<circle cx="1347.5" cy="846.4" r="137.8" fill="#dfe5fa" />
<g clip-path="url(#vc1)"><circle cx="1417.2" cy="726.3" r="138" fill="#ede8c0" /><circle cx="1347.5" cy="846.4" r="137.8" fill="#e0d7df" /></g>
<g clip-path="url(#vc2)"><circle cx="1347.5" cy="846.4" r="137.8" fill="#cfe4ee" /></g>
<g clip-path="url(#vc1)"><g clip-path="url(#vc2)"><circle cx="1347.5" cy="846.4" r="137.8" fill="#d3d8cf" /></g></g>
<circle cx="1282.6" cy="726.3" r="138" fill="none" stroke="#8a8a8a" stroke-width="2"/>
<circle cx="1417.2" cy="726.3" r="138" fill="none" stroke="#8a8a8a" stroke-width="2"/>
<circle cx="1347.5" cy="846.4" r="137.8" fill="none" stroke="#8a8a8a" stroke-width="2"/>
<line x1="1178.6" y1="631.9" x2="1183.6" y2="635.8" stroke="#fff" stroke-width="1.8" />
<text x="1229.7" y="701.6" font-size="22.5" text-anchor="middle" fill="#111">16</text>
<text x="1354.8" y="671.8" font-size="22.5" text-anchor="middle" fill="#111">0</text>
<text x="1495.8" y="699.6" font-size="22.5" text-anchor="middle" fill="#111">0</text>
<text x="1360.1" y="762.0" font-size="22.5" text-anchor="middle" fill="#111">32</text>
<text x="1270.3" y="828.1" font-size="22.5" text-anchor="middle" fill="#111">47</text>
<text x="1444.9" y="827.4" font-size="22.5" text-anchor="middle" fill="#111">4</text>
<text x="1368.3" y="920.5" font-size="22.5" text-anchor="middle" fill="#111">48</text>
<text x="1095.5" y="618.0" font-size="22" font-weight="bold" textLength="50.0" lengthAdjust="spacingAndGlyphs" stroke="#000" stroke-width="0.6">N.N.</text>
<text x="1533.8" y="607.0" font-size="20.5" font-weight="bold" textLength="43.0" lengthAdjust="spacingAndGlyphs" stroke="#000" stroke-width="0.6">V.P.</text>
<text x="1469.8" y="984.7" font-size="23" font-weight="bold" textLength="78.5" lengthAdjust="spacingAndGlyphs" stroke="#000" stroke-width="0.6">PLS-DA</text>
<line x1="105.0" y1="1344.8" x2="105.0" y2="1287.3" stroke="#000" stroke-width="2" />
<line x1="100.8" y1="1287.3" x2="109.2" y2="1287.3" stroke="#000" stroke-width="2" />
<rect x="96.8" y="1345.8" width="16.5" height="34.2" fill="#fff" stroke="#1c1c1c" stroke-width="2.1" />
<line x1="133.6" y1="1282.5" x2="133.6" y2="1251.2" stroke="#000" stroke-width="2" />
<line x1="129.4" y1="1251.2" x2="137.8" y2="1251.2" stroke="#000" stroke-width="2" />
<rect x="125.3" y="1283.5" width="16.5" height="96.5" fill="#8e8d93" stroke="#1c1c1c" stroke-width="2.1" />
<line x1="180.7" y1="1358.0" x2="180.7" y2="1322.5" stroke="#000" stroke-width="2" />
<line x1="176.5" y1="1322.5" x2="184.9" y2="1322.5" stroke="#000" stroke-width="2" />
<rect x="172.5" y="1359.0" width="16.5" height="21.0" fill="#fff" stroke="#1c1c1c" stroke-width="2.1" />
<line x1="209.2" y1="1378.4" x2="209.2" y2="1374.0" stroke="#000" stroke-width="2" />
<line x1="205.0" y1="1374.0" x2="213.4" y2="1374.0" stroke="#000" stroke-width="2" />
<rect x="201.0" y="1379.4" width="16.5" height="0.6" fill="#8e8d93" stroke="#1c1c1c" stroke-width="2.1" />
<line x1="256.4" y1="1376.4" x2="256.4" y2="1368.3" stroke="#000" stroke-width="2" />
<line x1="252.2" y1="1368.3" x2="260.6" y2="1368.3" stroke="#000" stroke-width="2" />
<rect x="248.2" y="1377.4" width="16.5" height="2.6" fill="#fff" stroke="#1c1c1c" stroke-width="2.1" />
<line x1="284.9" y1="1372.0" x2="284.9" y2="1360.6" stroke="#000" stroke-width="2" />
<line x1="280.7" y1="1360.6" x2="289.1" y2="1360.6" stroke="#000" stroke-width="2" />
<rect x="276.7" y="1373.0" width="16.5" height="7.0" fill="#8e8d93" stroke="#1c1c1c" stroke-width="2.1" />
<line x1="332.1" y1="1355.5" x2="332.1" y2="1319.1" stroke="#000" stroke-width="2" />
<line x1="327.9" y1="1319.1" x2="336.3" y2="1319.1" stroke="#000" stroke-width="2" />
<rect x="323.9" y="1356.5" width="16.5" height="23.5" fill="#fff" stroke="#1c1c1c" stroke-width="2.1" />
<line x1="360.6" y1="1377.4" x2="360.6" y2="1370.0" stroke="#000" stroke-width="2" />
<line x1="356.4" y1="1370.0" x2="364.8" y2="1370.0" stroke="#000" stroke-width="2" />
<rect x="352.4" y="1378.4" width="16.5" height="1.6" fill="#8e8d93" stroke="#1c1c1c" stroke-width="2.1" />
<line x1="407.8" y1="1351.3" x2="407.8" y2="1286.7" stroke="#000" stroke-width="2" />
<line x1="403.6" y1="1286.7" x2="412.0" y2="1286.7" stroke="#000" stroke-width="2" />
<rect x="399.6" y="1352.3" width="16.5" height="27.7" fill="#fff" stroke="#1c1c1c" stroke-width="2.1" />
<line x1="436.3" y1="1202.2" x2="436.3" y2="1168.6" stroke="#000" stroke-width="2" />
<line x1="432.1" y1="1168.6" x2="440.5" y2="1168.6" stroke="#000" stroke-width="2" />
<rect x="428.1" y="1203.2" width="16.5" height="176.8" fill="#8e8d93" stroke="#1c1c1c" stroke-width="2.1" />
<line x1="512.0" y1="1199.4" x2="512.0" y2="1174.9" stroke="#000" stroke-width="2" />
<line x1="507.8" y1="1174.9" x2="516.2" y2="1174.9" stroke="#000" stroke-width="2" />
<rect x="503.8" y="1200.4" width="16.5" height="179.6" fill="#8e8d93" stroke="#1c1c1c" stroke-width="2.1" />
<line x1="559.2" y1="1372.3" x2="559.2" y2="1355.4" stroke="#000" stroke-width="2" />
<line x1="555.0" y1="1355.4" x2="563.4" y2="1355.4" stroke="#000" stroke-width="2" />
<rect x="550.9" y="1373.3" width="16.5" height="6.7" fill="#fff" stroke="#1c1c1c" stroke-width="2.1" />
<line x1="587.7" y1="1358.2" x2="587.7" y2="1335.0" stroke="#000" stroke-width="2" />
<line x1="583.5" y1="1335.0" x2="591.9" y2="1335.0" stroke="#000" stroke-width="2" />
<rect x="579.4" y="1359.2" width="16.5" height="20.8" fill="#8e8d93" stroke="#1c1c1c" stroke-width="2.1" />
<line x1="634.9" y1="1199.4" x2="634.9" y2="1176.0" stroke="#000" stroke-width="2" />
<line x1="630.7" y1="1176.0" x2="639.1" y2="1176.0" stroke="#000" stroke-width="2" />
<rect x="626.6" y="1200.4" width="16.5" height="179.6" fill="#fff" stroke="#1c1c1c" stroke-width="2.1" />
<line x1="663.4" y1="1174.9" x2="663.4" y2="1142.7" stroke="#000" stroke-width="2" />
<line x1="659.2" y1="1142.7" x2="667.6" y2="1142.7" stroke="#000" stroke-width="2" />
<rect x="655.1" y="1175.9" width="16.5" height="204.1" fill="#8e8d93" stroke="#1c1c1c" stroke-width="2.1" />
<line x1="710.6" y1="1365.0" x2="710.6" y2="1333.6" stroke="#000" stroke-width="2" />
<line x1="706.4" y1="1333.6" x2="714.8" y2="1333.6" stroke="#000" stroke-width="2" />
<rect x="702.3" y="1366.0" width="16.5" height="14.0" fill="#fff" stroke="#1c1c1c" stroke-width="2.1" />
<line x1="739.1" y1="1318.0" x2="739.1" y2="1279.0" stroke="#000" stroke-width="2" />
<line x1="734.9" y1="1279.0" x2="743.3" y2="1279.0" stroke="#000" stroke-width="2" />
<rect x="730.8" y="1319.0" width="16.5" height="61.0" fill="#8e8d93" stroke="#1c1c1c" stroke-width="2.1" />
<line x1="786.3" y1="1372.3" x2="786.3" y2="1362.2" stroke="#000" stroke-width="2" />
<line x1="782.1" y1="1362.2" x2="790.5" y2="1362.2" stroke="#000" stroke-width="2" />
<rect x="778.0" y="1373.3" width="16.5" height="6.7" fill="#fff" stroke="#1c1c1c" stroke-width="2.1" />
<line x1="814.8" y1="1352.7" x2="814.8" y2="1319.2" stroke="#000" stroke-width="2" />
<line x1="810.6" y1="1319.2" x2="819.0" y2="1319.2" stroke="#000" stroke-width="2" />
<rect x="806.5" y="1353.7" width="16.5" height="26.3" fill="#8e8d93" stroke="#1c1c1c" stroke-width="2.1" />
<rect x="102.5" y="1299.7" width="5.0" height="6.6" fill="#fff" />
<rect x="122.8" y="1299.7" width="21.5" height="6.6" fill="#fff" />
<rect x="405.3" y="1299.7" width="5.0" height="6.6" fill="#fff" />
<rect x="425.6" y="1299.7" width="21.5" height="6.6" fill="#fff" />
<rect x="425.6" y="1205.5" width="21.5" height="7.1" fill="#fff" />
<rect x="501.2" y="1299.7" width="21.5" height="6.6" fill="#fff" />
<rect x="501.2" y="1205.5" width="21.5" height="7.1" fill="#fff" />
<rect x="624.1" y="1299.7" width="21.5" height="6.6" fill="#fff" />
<rect x="652.6" y="1299.7" width="21.5" height="6.6" fill="#fff" />
<rect x="624.1" y="1205.5" width="21.5" height="7.1" fill="#fff" />
<rect x="652.6" y="1205.5" width="21.5" height="7.1" fill="#fff" />
<rect x="736.6" y="1299.7" width="5.0" height="6.6" fill="#fff" />
<line x1="74.4" y1="1380.0" x2="834.5" y2="1380.0" stroke="#000" stroke-width="2.2" />
<line x1="118.8" y1="1379.0" x2="118.8" y2="1386.5" stroke="#000" stroke-width="2" />
<line x1="194.5" y1="1379.0" x2="194.5" y2="1386.5" stroke="#000" stroke-width="2" />
<line x1="270.2" y1="1379.0" x2="270.2" y2="1386.5" stroke="#000" stroke-width="2" />
<line x1="345.9" y1="1379.0" x2="345.9" y2="1386.5" stroke="#000" stroke-width="2" />
<line x1="421.6" y1="1379.0" x2="421.6" y2="1386.5" stroke="#000" stroke-width="2" />
<line x1="497.2" y1="1379.0" x2="497.2" y2="1386.5" stroke="#000" stroke-width="2" />
<line x1="572.9" y1="1379.0" x2="572.9" y2="1386.5" stroke="#000" stroke-width="2" />
<line x1="648.6" y1="1379.0" x2="648.6" y2="1386.5" stroke="#000" stroke-width="2" />
<line x1="724.3" y1="1379.0" x2="724.3" y2="1386.5" stroke="#000" stroke-width="2" />
<line x1="800.0" y1="1379.0" x2="800.0" y2="1386.5" stroke="#000" stroke-width="2" />
<line x1="81.4" y1="1119.2" x2="81.4" y2="1205.5" stroke="#000" stroke-width="2.2" />
<line x1="81.4" y1="1212.6" x2="81.4" y2="1299.7" stroke="#000" stroke-width="2.2" />
<line x1="81.4" y1="1306.1" x2="81.4" y2="1381.0" stroke="#000" stroke-width="2.2" />
<line x1="74.4" y1="1120.2" x2="81.4" y2="1120.2" stroke="#000" stroke-width="2" />
<line x1="74.4" y1="1146.4" x2="81.4" y2="1146.4" stroke="#000" stroke-width="2" />
<line x1="74.4" y1="1172.4" x2="81.4" y2="1172.4" stroke="#000" stroke-width="2" />
<line x1="74.4" y1="1198.3" x2="81.4" y2="1198.3" stroke="#000" stroke-width="2" />
<line x1="74.4" y1="1227.9" x2="81.4" y2="1227.9" stroke="#000" stroke-width="2" />
<line x1="74.4" y1="1260.4" x2="81.4" y2="1260.4" stroke="#000" stroke-width="2" />
<line x1="74.4" y1="1292.0" x2="81.4" y2="1292.0" stroke="#000" stroke-width="2" />
<line x1="74.4" y1="1331.0" x2="81.4" y2="1331.0" stroke="#000" stroke-width="2" />
<line x1="74.4" y1="1355.6" x2="81.4" y2="1355.6" stroke="#000" stroke-width="2" />
<line x1="74.4" y1="1379.8" x2="81.4" y2="1379.8" stroke="#000" stroke-width="2" />
<line x1="76.9" y1="1205.5" x2="87.4" y2="1205.5" stroke="#000" stroke-width="2" />
<line x1="76.9" y1="1212.6" x2="87.4" y2="1212.6" stroke="#000" stroke-width="2" />
<line x1="76.9" y1="1299.7" x2="87.4" y2="1299.7" stroke="#000" stroke-width="2" />
<line x1="76.9" y1="1306.1" x2="87.4" y2="1306.1" stroke="#000" stroke-width="2" />
<text x="69.4" y="1125.5" font-size="15.2" font-weight="bold" text-anchor="end" textLength="20.5" lengthAdjust="spacingAndGlyphs">40</text>
<text x="69.4" y="1151.7" font-size="15.2" font-weight="bold" text-anchor="end" textLength="20.5" lengthAdjust="spacingAndGlyphs">30</text>
<text x="69.4" y="1177.7" font-size="15.2" font-weight="bold" text-anchor="end" textLength="20.5" lengthAdjust="spacingAndGlyphs">20</text>
<text x="69.4" y="1203.6" font-size="15.2" font-weight="bold" text-anchor="end" textLength="20.5" lengthAdjust="spacingAndGlyphs">10</text>
<text x="69.4" y="1233.2" font-size="15.2" font-weight="bold" text-anchor="end" textLength="9.8" lengthAdjust="spacingAndGlyphs">6</text>
<text x="69.4" y="1265.7" font-size="15.2" font-weight="bold" text-anchor="end" textLength="9.8" lengthAdjust="spacingAndGlyphs">4</text>
<text x="69.4" y="1298.3" font-size="15.2" font-weight="bold" text-anchor="end" textLength="9.8" lengthAdjust="spacingAndGlyphs">2</text>
<text x="69.4" y="1314.3" font-size="15.2" font-weight="bold" text-anchor="end" textLength="25.3" lengthAdjust="spacingAndGlyphs">1.5</text>
<text x="69.4" y="1336.3" font-size="15.2" font-weight="bold" text-anchor="end" textLength="25.3" lengthAdjust="spacingAndGlyphs">1.0</text>
<text x="69.4" y="1360.9" font-size="15.2" font-weight="bold" text-anchor="end" textLength="25.3" lengthAdjust="spacingAndGlyphs">0.5</text>
<text x="69.4" y="1384.1" font-size="15.2" font-weight="bold" text-anchor="end" textLength="25.3" lengthAdjust="spacingAndGlyphs">0.0</text>
<line x1="103.0" y1="1236.0" x2="136.1" y2="1236.0" stroke="#000" stroke-width="1.3" />
<text x="118.3" y="1241.4" font-size="22.5" font-weight="bold" text-anchor="middle" style="font-family:&quot;Liberation Serif&quot;,serif" stroke="#000" stroke-width="0.45">**</text>
<line x1="179.4" y1="1312.3" x2="212.5" y2="1312.3" stroke="#000" stroke-width="1.3" />
<text x="196.0" y="1314.0" font-size="22.5" font-weight="bold" text-anchor="middle" style="font-family:&quot;Liberation Serif&quot;,serif" stroke="#000" stroke-width="0.45">*</text>
<line x1="255.2" y1="1344.6" x2="288.3" y2="1344.6" stroke="#000" stroke-width="1.3" />
<text x="271.0" y="1347.0" font-size="22.5" font-weight="bold" text-anchor="middle" style="font-family:&quot;Liberation Serif&quot;,serif" stroke="#000" stroke-width="0.45">*</text>
<line x1="331.6" y1="1300.8" x2="364.4" y2="1300.8" stroke="#000" stroke-width="1.3" />
<text x="347.3" y="1303.3" font-size="22.5" font-weight="bold" text-anchor="middle" style="font-family:&quot;Liberation Serif&quot;,serif" stroke="#000" stroke-width="0.45">*</text>
<line x1="397.7" y1="1159.9" x2="430.5" y2="1159.9" stroke="#000" stroke-width="1.3" />
<text x="414.0" y="1161.0" font-size="22.5" font-weight="bold" text-anchor="middle" style="font-family:&quot;Liberation Serif&quot;,serif" stroke="#000" stroke-width="0.45">*</text>
<line x1="473.5" y1="1171.4" x2="506.0" y2="1171.4" stroke="#000" stroke-width="1.3" />
<text x="494.0" y="1166.4" font-size="22.5" font-weight="bold" text-anchor="middle" style="font-family:&quot;Liberation Serif&quot;,serif" stroke="#000" stroke-width="0.45">***</text>
<line x1="549.6" y1="1323.3" x2="582.3" y2="1323.3" stroke="#000" stroke-width="1.3" />
<text x="565.4" y="1323.8" font-size="22.5" font-weight="bold" text-anchor="middle" style="font-family:&quot;Liberation Serif&quot;,serif" stroke="#000" stroke-width="0.45">*</text>
<line x1="625.4" y1="1137.8" x2="658.2" y2="1137.8" stroke="#000" stroke-width="1.3" />
<text x="640.4" y="1138.3" font-size="22.5" font-weight="bold" text-anchor="middle" style="font-family:&quot;Liberation Serif&quot;,serif" stroke="#000" stroke-width="0.45">*</text>
<line x1="702.3" y1="1268.7" x2="734.5" y2="1268.7" stroke="#000" stroke-width="1.3" />
<text x="718.2" y="1269.2" font-size="22.5" font-weight="bold" text-anchor="middle" style="font-family:&quot;Liberation Serif&quot;,serif" stroke="#000" stroke-width="0.45">*</text>
<line x1="778.1" y1="1312.3" x2="810.3" y2="1312.3" stroke="#000" stroke-width="1.3" />
<text x="793.1" y="1315.0" font-size="22.5" font-weight="bold" text-anchor="middle" style="font-family:&quot;Liberation Serif&quot;,serif" stroke="#000" stroke-width="0.45">*</text>
<text x="0.0" y="0.0" font-size="21.8" font-weight="bold" text-anchor="middle" textLength="178.4" lengthAdjust="spacingAndGlyphs" transform="translate(22.7,1245.2) rotate(-90)">Relative intensity</text>
<rect x="712.3" y="1131.4" width="26.1" height="13.0" fill="#fff" stroke="#000" stroke-width="2" />
<rect x="712.3" y="1161.4" width="26.1" height="13.0" fill="#8e8d93" stroke="#000" stroke-width="2" />
<text x="753.2" y="1144.9" font-size="21.4" textLength="44.0" lengthAdjust="spacingAndGlyphs">MuS</text>
<text x="754.0" y="1174.6" font-size="21.4" textLength="45.0" lengthAdjust="spacingAndGlyphs">OND</text>
<text x="0.0" y="0.0" font-size="19.5" font-weight="bold" text-anchor="end" transform="translate(123.6,1408.6) rotate(-45)">PC(28:0)</text>
<text x="0.0" y="0.0" font-size="19.5" font-weight="bold" text-anchor="end" transform="translate(199.3,1408.6) rotate(-45)">PC (36:3)</text>
<text x="0.0" y="0.0" font-size="19.5" font-weight="bold" text-anchor="end" transform="translate(275.0,1408.6) rotate(-45)">PC(28:1)</text>
<text x="0.0" y="0.0" font-size="19.5" font-weight="bold" text-anchor="end" transform="translate(350.7,1408.6) rotate(-45)">PC (32:2)</text>
<text x="0.0" y="0.0" font-size="19.5" font-weight="bold" text-anchor="end" transform="translate(426.4,1408.6) rotate(-45)">PC(36:1)</text>
<text x="0.0" y="0.0" font-size="19.5" font-weight="bold" text-anchor="end" transform="translate(502.1,1408.6) rotate(-45)">PC(36:8)</text>
<text x="0.0" y="0.0" font-size="19.5" font-weight="bold" text-anchor="end" transform="translate(577.7,1408.6) rotate(-45)">PC (37:6)</text>
<text x="0.0" y="0.0" font-size="19.5" font-weight="bold" text-anchor="end" transform="translate(653.4,1408.6) rotate(-45)">PC(35:4)</text>
<text x="0.0" y="0.0" font-size="19.5" font-weight="bold" text-anchor="end" transform="translate(729.1,1408.6) rotate(-45)">LPC(18:1)</text>
<text x="0.0" y="0.0" font-size="19.5" font-weight="bold" text-anchor="end" transform="translate(804.8,1408.6) rotate(-45)">LPC(20:4)</text>
<line x1="945.3" y1="1249.0" x2="945.3" y2="1195.6" stroke="#000" stroke-width="2" />
<line x1="941.1" y1="1195.6" x2="949.5" y2="1195.6" stroke="#000" stroke-width="2" />
<rect x="938.0" y="1250.0" width="14.6" height="130.0" fill="#fff" stroke="#1c1c1c" stroke-width="2.1" />
<line x1="969.8" y1="1179.4" x2="969.8" y2="1143.5" stroke="#000" stroke-width="2" />
<line x1="965.5" y1="1143.5" x2="974.0" y2="1143.5" stroke="#000" stroke-width="2" />
<rect x="962.9" y="1180.4" width="13.7" height="199.6" fill="#8e8d93" stroke="#1c1c1c" stroke-width="2.1" />
<line x1="1010.6" y1="1377.0" x2="1010.6" y2="1370.4" stroke="#000" stroke-width="2" />
<line x1="1006.4" y1="1370.4" x2="1014.8" y2="1370.4" stroke="#000" stroke-width="2" />
<rect x="1003.3" y="1378.0" width="14.6" height="2.0" fill="#fff" stroke="#1c1c1c" stroke-width="2.1" />
<line x1="1035.0" y1="1364.4" x2="1035.0" y2="1341.3" stroke="#000" stroke-width="2" />
<line x1="1030.8" y1="1341.3" x2="1039.2" y2="1341.3" stroke="#000" stroke-width="2" />
<rect x="1028.2" y="1365.4" width="13.7" height="14.6" fill="#8e8d93" stroke="#1c1c1c" stroke-width="2.1" />
<line x1="1075.8" y1="1366.8" x2="1075.8" y2="1343.8" stroke="#000" stroke-width="2" />
<line x1="1071.6" y1="1343.8" x2="1080.0" y2="1343.8" stroke="#000" stroke-width="2" />
<rect x="1068.5" y="1367.8" width="14.6" height="12.2" fill="#fff" stroke="#1c1c1c" stroke-width="2.1" />
<line x1="1100.3" y1="1306.7" x2="1100.3" y2="1270.3" stroke="#000" stroke-width="2" />
<line x1="1096.1" y1="1270.3" x2="1104.5" y2="1270.3" stroke="#000" stroke-width="2" />
<rect x="1093.4" y="1307.7" width="13.7" height="72.3" fill="#8e8d93" stroke="#1c1c1c" stroke-width="2.1" />
<line x1="1141.1" y1="1371.6" x2="1141.1" y2="1361.2" stroke="#000" stroke-width="2" />
<line x1="1136.9" y1="1361.2" x2="1145.3" y2="1361.2" stroke="#000" stroke-width="2" />
<rect x="1133.8" y="1372.6" width="14.6" height="7.4" fill="#fff" stroke="#1c1c1c" stroke-width="2.1" />
<line x1="1165.6" y1="1360.0" x2="1165.6" y2="1338.7" stroke="#000" stroke-width="2" />
<line x1="1161.4" y1="1338.7" x2="1169.8" y2="1338.7" stroke="#000" stroke-width="2" />
<rect x="1158.7" y="1361.0" width="13.7" height="19.0" fill="#8e8d93" stroke="#1c1c1c" stroke-width="2.1" />
<line x1="1206.4" y1="1370.9" x2="1206.4" y2="1357.1" stroke="#000" stroke-width="2" />
<line x1="1202.2" y1="1357.1" x2="1210.6" y2="1357.1" stroke="#000" stroke-width="2" />
<rect x="1199.1" y="1371.9" width="14.6" height="8.1" fill="#fff" stroke="#1c1c1c" stroke-width="2.1" />
<line x1="1230.8" y1="1352.0" x2="1230.8" y2="1323.6" stroke="#000" stroke-width="2" />
<line x1="1226.6" y1="1323.6" x2="1235.0" y2="1323.6" stroke="#000" stroke-width="2" />
<rect x="1224.0" y="1353.0" width="13.7" height="27.0" fill="#8e8d93" stroke="#1c1c1c" stroke-width="2.1" />
<line x1="1271.7" y1="1334.7" x2="1271.7" y2="1285.5" stroke="#000" stroke-width="2" />
<line x1="1267.5" y1="1285.5" x2="1275.9" y2="1285.5" stroke="#000" stroke-width="2" />
<rect x="1264.4" y="1335.7" width="14.6" height="44.3" fill="#fff" stroke="#1c1c1c" stroke-width="2.1" />
<line x1="1296.1" y1="1280.0" x2="1296.1" y2="1237.0" stroke="#000" stroke-width="2" />
<line x1="1291.9" y1="1237.0" x2="1300.3" y2="1237.0" stroke="#000" stroke-width="2" />
<rect x="1289.2" y="1281.0" width="13.7" height="99.0" fill="#8e8d93" stroke="#1c1c1c" stroke-width="2.1" />
<line x1="1336.9" y1="1352.1" x2="1336.9" y2="1313.6" stroke="#000" stroke-width="2" />
<line x1="1332.7" y1="1313.6" x2="1341.1" y2="1313.6" stroke="#000" stroke-width="2" />
<rect x="1329.6" y="1353.1" width="14.6" height="26.9" fill="#fff" stroke="#1c1c1c" stroke-width="2.1" />
<line x1="1361.4" y1="1321.5" x2="1361.4" y2="1291.2" stroke="#000" stroke-width="2" />
<line x1="1357.2" y1="1291.2" x2="1365.6" y2="1291.2" stroke="#000" stroke-width="2" />
<rect x="1354.5" y="1322.5" width="13.7" height="57.5" fill="#8e8d93" stroke="#1c1c1c" stroke-width="2.1" />
<line x1="1402.2" y1="1374.0" x2="1402.2" y2="1365.3" stroke="#000" stroke-width="2" />
<line x1="1398.0" y1="1365.3" x2="1406.4" y2="1365.3" stroke="#000" stroke-width="2" />
<rect x="1394.9" y="1375.0" width="14.6" height="5.0" fill="#fff" stroke="#1c1c1c" stroke-width="2.1" />
<line x1="1426.6" y1="1378.3" x2="1426.6" y2="1376.3" stroke="#000" stroke-width="2" />
<line x1="1422.4" y1="1376.3" x2="1430.8" y2="1376.3" stroke="#000" stroke-width="2" />
<rect x="1419.8" y="1379.3" width="13.7" height="0.7" fill="#8e8d93" stroke="#1c1c1c" stroke-width="2.1" />
<line x1="1467.5" y1="1368.3" x2="1467.5" y2="1349.6" stroke="#000" stroke-width="2" />
<line x1="1463.3" y1="1349.6" x2="1471.7" y2="1349.6" stroke="#000" stroke-width="2" />
<rect x="1460.2" y="1369.3" width="14.6" height="10.7" fill="#fff" stroke="#1c1c1c" stroke-width="2.1" />
<line x1="1491.9" y1="1378.6" x2="1491.9" y2="1373.7" stroke="#000" stroke-width="2" />
<line x1="1487.7" y1="1373.7" x2="1496.1" y2="1373.7" stroke="#000" stroke-width="2" />
<rect x="1485.1" y="1379.6" width="13.7" height="0.4" fill="#8e8d93" stroke="#1c1c1c" stroke-width="2.1" />
<line x1="1532.7" y1="1364.0" x2="1532.7" y2="1326.8" stroke="#000" stroke-width="2" />
<line x1="1528.5" y1="1326.8" x2="1536.9" y2="1326.8" stroke="#000" stroke-width="2" />
<rect x="1525.4" y="1365.0" width="14.6" height="15.0" fill="#fff" stroke="#1c1c1c" stroke-width="2.1" />
<line x1="1557.2" y1="1280.0" x2="1557.2" y2="1211.7" stroke="#000" stroke-width="2" />
<line x1="1553.0" y1="1211.7" x2="1561.4" y2="1211.7" stroke="#000" stroke-width="2" />
<rect x="1550.3" y="1281.0" width="13.7" height="99.0" fill="#8e8d93" stroke="#1c1c1c" stroke-width="2.1" />
<line x1="1598.0" y1="1289.5" x2="1598.0" y2="1259.4" stroke="#000" stroke-width="2" />
<line x1="1593.8" y1="1259.4" x2="1602.2" y2="1259.4" stroke="#000" stroke-width="2" />
<rect x="1590.7" y="1290.5" width="14.6" height="89.5" fill="#fff" stroke="#1c1c1c" stroke-width="2.1" />
<line x1="1622.4" y1="1234.6" x2="1622.4" y2="1181.9" stroke="#000" stroke-width="2" />
<line x1="1618.2" y1="1181.9" x2="1626.6" y2="1181.9" stroke="#000" stroke-width="2" />
<rect x="1615.6" y="1235.6" width="13.7" height="144.4" fill="#8e8d93" stroke="#1c1c1c" stroke-width="2.1" />
<rect x="935.5" y="1296.5" width="19.6" height="7.0" fill="#fff" />
<rect x="960.4" y="1296.5" width="18.7" height="7.0" fill="#fff" />
<rect x="942.8" y="1200.5" width="5.0" height="7.1" fill="#fff" />
<rect x="960.4" y="1200.5" width="18.7" height="7.1" fill="#fff" />
<rect x="1097.8" y="1296.5" width="5.0" height="7.0" fill="#fff" />
<rect x="1269.2" y="1296.5" width="5.0" height="7.0" fill="#fff" />
<rect x="1286.8" y="1296.5" width="18.7" height="7.0" fill="#fff" />
<rect x="1358.9" y="1296.5" width="5.0" height="7.0" fill="#fff" />
<rect x="1547.8" y="1296.5" width="18.7" height="7.0" fill="#fff" />
<rect x="1588.2" y="1296.5" width="19.6" height="7.0" fill="#fff" />
<rect x="1613.1" y="1296.5" width="18.7" height="7.0" fill="#fff" />
<rect x="1619.9" y="1200.5" width="5.0" height="7.1" fill="#fff" />
<line x1="918.0" y1="1380.0" x2="1641.3" y2="1380.0" stroke="#000" stroke-width="2.2" />
<line x1="957.1" y1="1379.0" x2="957.1" y2="1386.5" stroke="#000" stroke-width="2" />
<line x1="1022.4" y1="1379.0" x2="1022.4" y2="1386.5" stroke="#000" stroke-width="2" />
<line x1="1087.6" y1="1379.0" x2="1087.6" y2="1386.5" stroke="#000" stroke-width="2" />
<line x1="1152.9" y1="1379.0" x2="1152.9" y2="1386.5" stroke="#000" stroke-width="2" />
<line x1="1218.2" y1="1379.0" x2="1218.2" y2="1386.5" stroke="#000" stroke-width="2" />
<line x1="1283.5" y1="1379.0" x2="1283.5" y2="1386.5" stroke="#000" stroke-width="2" />
<line x1="1348.7" y1="1379.0" x2="1348.7" y2="1386.5" stroke="#000" stroke-width="2" />
<line x1="1414.0" y1="1379.0" x2="1414.0" y2="1386.5" stroke="#000" stroke-width="2" />
<line x1="1479.3" y1="1379.0" x2="1479.3" y2="1386.5" stroke="#000" stroke-width="2" />
<line x1="1544.5" y1="1379.0" x2="1544.5" y2="1386.5" stroke="#000" stroke-width="2" />
<line x1="1609.8" y1="1379.0" x2="1609.8" y2="1386.5" stroke="#000" stroke-width="2" />
<line x1="925.0" y1="1111.7" x2="925.0" y2="1200.5" stroke="#000" stroke-width="2.2" />
<line x1="925.0" y1="1207.6" x2="925.0" y2="1296.5" stroke="#000" stroke-width="2.2" />
<line x1="925.0" y1="1303.5" x2="925.0" y2="1381.0" stroke="#000" stroke-width="2.2" />
<line x1="918.0" y1="1112.7" x2="925.0" y2="1112.7" stroke="#000" stroke-width="2" />
<line x1="918.0" y1="1150.3" x2="925.0" y2="1150.3" stroke="#000" stroke-width="2" />
<line x1="918.0" y1="1189.1" x2="925.0" y2="1189.1" stroke="#000" stroke-width="2" />
<line x1="918.0" y1="1238.8" x2="925.0" y2="1238.8" stroke="#000" stroke-width="2" />
<line x1="918.0" y1="1267.9" x2="925.0" y2="1267.9" stroke="#000" stroke-width="2" />
<line x1="918.0" y1="1318.8" x2="925.0" y2="1318.8" stroke="#000" stroke-width="2" />
<line x1="918.0" y1="1349.1" x2="925.0" y2="1349.1" stroke="#000" stroke-width="2" />
<line x1="918.0" y1="1380.1" x2="925.0" y2="1380.1" stroke="#000" stroke-width="2" />
<line x1="920.5" y1="1200.5" x2="931.0" y2="1200.5" stroke="#000" stroke-width="2" />
<line x1="920.5" y1="1207.6" x2="931.0" y2="1207.6" stroke="#000" stroke-width="2" />
<line x1="920.5" y1="1296.5" x2="931.0" y2="1296.5" stroke="#000" stroke-width="2" />
<line x1="920.5" y1="1303.5" x2="931.0" y2="1303.5" stroke="#000" stroke-width="2" />
<text x="913.0" y="1118.0" font-size="16.5" font-weight="bold" text-anchor="end" textLength="20.8" lengthAdjust="spacingAndGlyphs">90</text>
<text x="913.0" y="1155.6" font-size="16.5" font-weight="bold" text-anchor="end" textLength="20.8" lengthAdjust="spacingAndGlyphs">60</text>
<text x="913.0" y="1194.4" font-size="16.5" font-weight="bold" text-anchor="end" textLength="20.8" lengthAdjust="spacingAndGlyphs">30</text>
<text x="913.0" y="1212.6" font-size="16.5" font-weight="bold" text-anchor="end" textLength="20.8" lengthAdjust="spacingAndGlyphs">20</text>
<text x="913.0" y="1244.1" font-size="16.5" font-weight="bold" text-anchor="end" textLength="20.8" lengthAdjust="spacingAndGlyphs">15</text>
<text x="913.0" y="1273.2" font-size="16.5" font-weight="bold" text-anchor="end" textLength="20.8" lengthAdjust="spacingAndGlyphs">10</text>
<text x="913.0" y="1302.3" font-size="16.5" font-weight="bold" text-anchor="end" textLength="10.2" lengthAdjust="spacingAndGlyphs">5</text>
<text x="913.0" y="1324.1" font-size="16.5" font-weight="bold" text-anchor="end" textLength="10.2" lengthAdjust="spacingAndGlyphs">4</text>
<text x="913.0" y="1354.4" font-size="16.5" font-weight="bold" text-anchor="end" textLength="10.2" lengthAdjust="spacingAndGlyphs">2</text>
<text x="913.0" y="1385.4" font-size="16.5" font-weight="bold" text-anchor="end" textLength="10.2" lengthAdjust="spacingAndGlyphs">0</text>
<line x1="947.9" y1="1125.6" x2="977.7" y2="1125.6" stroke="#000" stroke-width="1.3" />
<text x="964.1" y="1125.8" font-size="22.5" font-weight="bold" text-anchor="middle" style="font-family:&quot;Liberation Serif&quot;,serif" stroke="#000" stroke-width="0.45">***</text>
<line x1="1009.7" y1="1330.9" x2="1040.0" y2="1330.9" stroke="#000" stroke-width="1.3" />
<text x="1022.3" y="1333.0" font-size="22.5" font-weight="bold" text-anchor="middle" style="font-family:&quot;Liberation Serif&quot;,serif" stroke="#000" stroke-width="0.45">*</text>
<line x1="1078.0" y1="1255.8" x2="1107.9" y2="1255.8" stroke="#000" stroke-width="1.3" />
<text x="1091.0" y="1262.2" font-size="22.5" font-weight="bold" text-anchor="middle" style="font-family:&quot;Liberation Serif&quot;,serif" stroke="#000" stroke-width="0.45">**</text>
<line x1="1138.2" y1="1325.6" x2="1167.8" y2="1325.6" stroke="#000" stroke-width="1.3" />
<text x="1152.2" y="1330.6" font-size="22.5" font-weight="bold" text-anchor="middle" style="font-family:&quot;Liberation Serif&quot;,serif" stroke="#000" stroke-width="0.45">*</text>
<line x1="1208.5" y1="1306.0" x2="1237.6" y2="1306.0" stroke="#000" stroke-width="1.3" />
<text x="1223.0" y="1310.0" font-size="22.5" font-weight="bold" text-anchor="middle" style="font-family:&quot;Liberation Serif&quot;,serif" stroke="#000" stroke-width="0.45">*</text>
<line x1="1269.0" y1="1225.9" x2="1298.9" y2="1225.9" stroke="#000" stroke-width="1.3" />
<text x="1283.0" y="1228.6" font-size="22.5" font-weight="bold" text-anchor="middle" style="font-family:&quot;Liberation Serif&quot;,serif" stroke="#000" stroke-width="0.45">*</text>
<line x1="1328.7" y1="1276.3" x2="1358.5" y2="1276.3" stroke="#000" stroke-width="1.3" />
<text x="1341.9" y="1280.7" font-size="22.5" font-weight="bold" text-anchor="middle" style="font-family:&quot;Liberation Serif&quot;,serif" stroke="#000" stroke-width="0.45">*</text>
<line x1="1399.0" y1="1346.4" x2="1428.9" y2="1346.4" stroke="#000" stroke-width="1.3" />
<text x="1412.0" y="1347.8" font-size="22.5" font-weight="bold" text-anchor="middle" style="font-family:&quot;Liberation Serif&quot;,serif" stroke="#000" stroke-width="0.45">*</text>
<line x1="1458.7" y1="1336.0" x2="1488.5" y2="1336.0" stroke="#000" stroke-width="1.3" />
<text x="1474.1" y="1340.4" font-size="22.5" font-weight="bold" text-anchor="middle" style="font-family:&quot;Liberation Serif&quot;,serif" stroke="#000" stroke-width="0.45">*</text>
<line x1="1528.8" y1="1206.0" x2="1558.6" y2="1206.0" stroke="#000" stroke-width="1.3" />
<text x="1542.7" y="1209.9" font-size="22.5" font-weight="bold" text-anchor="middle" style="font-family:&quot;Liberation Serif&quot;,serif" stroke="#000" stroke-width="0.45">*</text>
<line x1="1589.7" y1="1176.2" x2="1619.5" y2="1176.2" stroke="#000" stroke-width="1.3" />
<text x="1604.6" y="1180.1" font-size="22.5" font-weight="bold" text-anchor="middle" style="font-family:&quot;Liberation Serif&quot;,serif" stroke="#000" stroke-width="0.45">*</text>
<text x="0.0" y="0.0" font-size="22.8" font-weight="bold" text-anchor="middle" textLength="183.5" lengthAdjust="spacingAndGlyphs" transform="translate(880.5,1241.3) rotate(-90)">Relative intensity</text>
<rect x="1515.6" y="1100.4" width="27.1" height="13.0" fill="#fff" stroke="#000" stroke-width="2" />
<rect x="1515.6" y="1131.4" width="27.1" height="13.0" fill="#8e8d93" stroke="#000" stroke-width="2" />
<text x="1558.3" y="1113.5" font-size="21" textLength="44.0" lengthAdjust="spacingAndGlyphs">MuS</text>
<text x="1558.3" y="1144.1" font-size="21" textLength="46.5" lengthAdjust="spacingAndGlyphs">OND</text>
<text x="0.0" y="0.0" font-size="20.2" font-weight="bold" text-anchor="end" transform="translate(962.6,1409.5) rotate(-45)">SM(d18:1/16:0)</text>
<text x="0.0" y="0.0" font-size="20.2" font-weight="bold" text-anchor="end" transform="translate(1027.9,1409.5) rotate(-45)">SM(d18:2/20:0)</text>
<text x="0.0" y="0.0" font-size="20.2" font-weight="bold" text-anchor="end" transform="translate(1093.1,1409.5) rotate(-45)">SM(d18:1/24:1(15Z))</text>
<text x="0.0" y="0.0" font-size="20.2" font-weight="bold" text-anchor="end" transform="translate(1158.4,1409.5) rotate(-45)">SM(d18:2/22:1)</text>
<text x="0.0" y="0.0" font-size="20.2" font-weight="bold" text-anchor="end" transform="translate(1223.7,1409.5) rotate(-45)">SM(d18:1/14:0)</text>
<text x="0.0" y="0.0" font-size="20.2" font-weight="bold" text-anchor="end" transform="translate(1289.0,1409.5) rotate(-45)">SM(d18:0/16:1(9Z)(OH))</text>
<text x="0.0" y="0.0" font-size="20.2" font-weight="bold" text-anchor="end" transform="translate(1354.2,1409.5) rotate(-45)">SM(d18:1/13:0)</text>
<text x="0.0" y="0.0" font-size="20.2" font-weight="bold" text-anchor="end" transform="translate(1419.5,1409.5) rotate(-45)">18.17_465.2</text>
<text x="0.0" y="0.0" font-size="20.2" font-weight="bold" text-anchor="end" transform="translate(1484.8,1409.5) rotate(-45)">18.55_805.4</text>
<text x="0.0" y="0.0" font-size="20.2" font-weight="bold" text-anchor="end" transform="translate(1550.0,1409.5) rotate(-45)">17.93_917.8</text>
<text x="0.0" y="0.0" font-size="20.2" font-weight="bold" text-anchor="end" transform="translate(1615.3,1409.5) rotate(-45)">17.99_701.4</text>
<path d="M229.9,1604.4V2013.8M275.3,1877.2V2013.8M286.4,1767.8V1850.1M286.4,1932V2013.8M294.5,1604.4V2013.8M305.3,1721V2013.8M320.5,1655.3V2013.8M342.6,1685.9V2013.8M358.4,1604.4V2013.8M364.9,1740.7V1877.2M380.2,1604.4V2013.8M398.9,1604.4V1932M409.9,1604.4V1962.3M423,1604.4V2013.8M455.3,1604.4V2013.8M487.3,1672.2V2013.8M499.9,1604.4V2013.8M510.9,1685.9V1850.1M529.8,1604.4V2013.8M551.9,1604.4V1945M568,1609V1968.3M590,1605V1860.2M605,1604.4V1955.2M615.4,1604.4V1877.2M623.6,1604.4V1767.8M635.1,1604.4V1740.7M679.8,1604.4V1877.2M229.9,1604.4H679.8M568,1649.3H679.8M320.5,1655.3H679.8M380.2,1662.7H679.8M358.4,1672.2H679.8M342.6,1685.9H679.8M455.3,1695H679.8M320.5,1706.9H679.8M305.3,1721H679.8M229.9,1740.7H679.8M229.9,1758H679.8M286.4,1767.8H679.8M305.3,1780.1H679.8M342.6,1786.4H679.8M229.9,1808.5H679.8M229.9,1832.3H342.6M455.3,1832.3H679.8M229.9,1838.1H679.8M229.9,1850.1H342.6M398.9,1850.1H510.9M229.9,1860.2H679.8M229.9,1877.2H679.8M229.9,1896.9H605M229.9,1911.6H499.9M286.4,1932H455.3M229.9,1945H551.9M229.9,1955.2H605M229.9,1962.3H409.9M229.9,1968.3H568M229.9,2013.8H529.8M410.4,1655.3L568,1609.2M238.6,1896.9L320.5,1758" stroke="#c4c4c4" stroke-width="1.3" fill="none"/>
<polyline points="230,2013.8 230.7,1973.3 232.3,1941.8 234.7,1910.3 236.6,1878.8 239.4,1855.2 242.5,1831.5 245.7,1810 270.9,1740.7 308.7,1693.5 345.8,1656 388.3,1633.6 434.8,1621.8 460,1617.8 493.6,1613.1 529.8,1610.3 550.3,1608.4 591.3,1605.2 620,1604.4 679.8,1604.2" fill="none" stroke="#0808cc" stroke-width="3" stroke-linejoin="round"/>
<rect x="212.6" y="1587.1" width="485.2" height="443.5" fill="none" stroke="#3c3c3c" stroke-width="1.8"/>
<line x1="205.9" y1="2013.8" x2="212.6" y2="2013.8" stroke="#3c3c3c" stroke-width="1.5" />
<line x1="230.0" y1="2030.6" x2="230.0" y2="2035.0" stroke="#3c3c3c" stroke-width="1.5" />
<line x1="205.9" y1="1931.9" x2="212.6" y2="1931.9" stroke="#3c3c3c" stroke-width="1.5" />
<line x1="320.0" y1="2030.6" x2="320.0" y2="2035.0" stroke="#3c3c3c" stroke-width="1.5" />
<line x1="205.9" y1="1850.0" x2="212.6" y2="1850.0" stroke="#3c3c3c" stroke-width="1.5" />
<line x1="409.9" y1="2030.6" x2="409.9" y2="2035.0" stroke="#3c3c3c" stroke-width="1.5" />
<line x1="205.9" y1="1768.2" x2="212.6" y2="1768.2" stroke="#3c3c3c" stroke-width="1.5" />
<line x1="499.9" y1="2030.6" x2="499.9" y2="2035.0" stroke="#3c3c3c" stroke-width="1.5" />
<line x1="205.9" y1="1686.3" x2="212.6" y2="1686.3" stroke="#3c3c3c" stroke-width="1.5" />
<line x1="589.8" y1="2030.6" x2="589.8" y2="2035.0" stroke="#3c3c3c" stroke-width="1.5" />
<line x1="205.9" y1="1604.4" x2="212.6" y2="1604.4" stroke="#3c3c3c" stroke-width="1.5" />
<line x1="679.8" y1="2030.6" x2="679.8" y2="2035.0" stroke="#3c3c3c" stroke-width="1.5" />
<text x="358.0" y="1815.5" font-size="17.7" fill="#111" textLength="219.5" lengthAdjust="spacingAndGlyphs">Empirical p-value:  p = 0.02</text>
<text x="241.9" y="2067.9" font-size="19" font-weight="bold" text-anchor="middle" textLength="30.3" lengthAdjust="spacingAndGlyphs" stroke="#000" stroke-width="0.6">0.0</text>
<text x="328.0" y="2067.9" font-size="19" font-weight="bold" text-anchor="middle" textLength="30.3" lengthAdjust="spacingAndGlyphs" stroke="#000" stroke-width="0.6">0.2</text>
<text x="412.9" y="2067.9" font-size="19" font-weight="bold" text-anchor="middle" textLength="30.3" lengthAdjust="spacingAndGlyphs" stroke="#000" stroke-width="0.6">0.4</text>
<text x="491.0" y="2067.9" font-size="19" font-weight="bold" text-anchor="middle" textLength="30.3" lengthAdjust="spacingAndGlyphs" stroke="#000" stroke-width="0.6">0.6</text>
<text x="587.9" y="2067.9" font-size="19" font-weight="bold" text-anchor="middle" textLength="30.3" lengthAdjust="spacingAndGlyphs" stroke="#000" stroke-width="0.6">0.8</text>
<text x="669.7" y="2067.9" font-size="19" font-weight="bold" text-anchor="middle" textLength="30.3" lengthAdjust="spacingAndGlyphs" stroke="#000" stroke-width="0.6">1.0</text>
<text x="287.9" y="2109.4" font-size="21" font-weight="bold" textLength="305.0" lengthAdjust="spacingAndGlyphs" stroke="#000" stroke-width="0.6">1- Specificity (False Positive rate)</text>
<text x="0.0" y="0.0" font-size="19" font-weight="bold" text-anchor="middle" textLength="27.0" lengthAdjust="spacingAndGlyphs" transform="translate(186.8,1609.7) rotate(-90)" stroke="#000" stroke-width="0.6">1.0</text>
<text x="0.0" y="0.0" font-size="19" font-weight="bold" text-anchor="middle" textLength="27.0" lengthAdjust="spacingAndGlyphs" transform="translate(186.8,1685) rotate(-90)" stroke="#000" stroke-width="0.6">0.8</text>
<text x="0.0" y="0.0" font-size="19" font-weight="bold" text-anchor="middle" textLength="27.0" lengthAdjust="spacingAndGlyphs" transform="translate(186.8,1764.4) rotate(-90)" stroke="#000" stroke-width="0.6">0.6</text>
<text x="0.0" y="0.0" font-size="19" font-weight="bold" text-anchor="middle" textLength="27.0" lengthAdjust="spacingAndGlyphs" transform="translate(186.8,1847.4) rotate(-90)" stroke="#000" stroke-width="0.6">0.4</text>
<text x="0.0" y="0.0" font-size="19" font-weight="bold" text-anchor="middle" textLength="27.0" lengthAdjust="spacingAndGlyphs" transform="translate(186.8,1927.3) rotate(-90)" stroke="#000" stroke-width="0.6">0.2</text>
<text x="0.0" y="0.0" font-size="19" font-weight="bold" text-anchor="middle" textLength="27.0" lengthAdjust="spacingAndGlyphs" transform="translate(186.8,2008.2) rotate(-90)" stroke="#000" stroke-width="0.6">0.0</text>
<text x="0.0" y="0.0" font-size="23" font-weight="bold" text-anchor="middle" textLength="274.0" lengthAdjust="spacingAndGlyphs" transform="translate(141.1,1826.6) rotate(-90)" stroke="#000" stroke-width="0.6">Sensitivity (True Positive rate)</text>
<rect x="953.3" y="1605.6" width="443.9" height="417.3" fill="none" stroke="#4a4a4a" stroke-width="1.5"/>
<line x1="1175.2" y1="1606.0" x2="1175.2" y2="2022.5" stroke="#cfcfcf" stroke-width="1.3" />
<line x1="953.5" y1="1814.2" x2="1397.0" y2="1814.2" stroke="#cfcfcf" stroke-width="1.3" />
<line x1="949.5" y1="1628.1" x2="953.3" y2="1628.1" stroke="#4a4a4a" stroke-width="1.4" />
<line x1="949.5" y1="1721.4" x2="953.3" y2="1721.4" stroke="#4a4a4a" stroke-width="1.4" />
<line x1="949.5" y1="1814.7" x2="953.3" y2="1814.7" stroke="#4a4a4a" stroke-width="1.4" />
<line x1="949.5" y1="1908.0" x2="953.3" y2="1908.0" stroke="#4a4a4a" stroke-width="1.4" />
<line x1="949.5" y1="2001.3" x2="953.3" y2="2001.3" stroke="#4a4a4a" stroke-width="1.4" />
<line x1="969.4" y1="2022.9" x2="969.4" y2="2027.0" stroke="#4a4a4a" stroke-width="1.4" />
<line x1="1051.7" y1="2022.9" x2="1051.7" y2="2027.0" stroke="#4a4a4a" stroke-width="1.4" />
<line x1="1134.0" y1="2022.9" x2="1134.0" y2="2027.0" stroke="#4a4a4a" stroke-width="1.4" />
<line x1="1216.3" y1="2022.9" x2="1216.3" y2="2027.0" stroke="#4a4a4a" stroke-width="1.4" />
<line x1="1298.6" y1="2022.9" x2="1298.6" y2="2027.0" stroke="#4a4a4a" stroke-width="1.4" />
<line x1="1380.9" y1="2022.9" x2="1380.9" y2="2027.0" stroke="#4a4a4a" stroke-width="1.4" />
<g fill="#fff" stroke="#444" stroke-width="1.4"><circle cx="1043.8" cy="1654.2" r="3.1"/><circle cx="1094.6" cy="1668.8" r="3.1"/><circle cx="1007.6" cy="1700" r="3.1"/><circle cx="975.9" cy="1771.4" r="3.1"/><circle cx="1056.4" cy="1781" r="3.1"/><circle cx="1136.4" cy="1777" r="3.1"/><circle cx="982" cy="1802.6" r="3.1"/><circle cx="1025.2" cy="1804.1" r="3.1"/><circle cx="1191.7" cy="1808.1" r="3.1"/><circle cx="1235.5" cy="1836.3" r="3.1"/><circle cx="1152.5" cy="1856.4" r="3.1"/><circle cx="1120.3" cy="1867" r="3.1"/><circle cx="968.9" cy="1879" r="3.1"/><circle cx="1019.2" cy="1932.9" r="3.1"/></g>
<g fill="#000"><circle cx="1246.6" cy="1647.1" r="3.7"/><circle cx="1225.4" cy="1697.4" r="3.7"/><circle cx="1267.2" cy="1736.2" r="3.7"/><circle cx="1295.4" cy="1748.8" r="3.7"/><circle cx="1210.3" cy="1767.9" r="3.7"/><circle cx="1280.8" cy="1774.4" r="3.7"/><circle cx="1237" cy="1800" r="3.7"/><circle cx="1249.1" cy="1835.3" r="3.7"/><circle cx="1291.8" cy="1858.9" r="3.7"/><circle cx="1337.1" cy="1867" r="3.7"/><circle cx="1182.2" cy="1873" r="3.7"/><circle cx="1323.5" cy="1883.1" r="3.7"/><circle cx="1290.8" cy="1910.7" r="3.7"/><circle cx="1360.2" cy="1914.2" r="3.7"/><circle cx="1231" cy="1921.3" r="3.7"/><circle cx="1285.8" cy="1972.6" r="3.7"/><circle cx="1344.1" cy="1998.8" r="3.7"/></g>
<text x="919.0" y="1638.1" font-size="19.5" font-weight="bold" text-anchor="end" textLength="11.5" lengthAdjust="spacingAndGlyphs" stroke="#000" stroke-width="0.6">2</text>
<text x="919.0" y="1731.4" font-size="19.5" font-weight="bold" text-anchor="end" textLength="10.0" lengthAdjust="spacingAndGlyphs" stroke="#000" stroke-width="0.6">1</text>
<text x="919.0" y="1824.7" font-size="19.5" font-weight="bold" text-anchor="end" textLength="11.0" lengthAdjust="spacingAndGlyphs" stroke="#000" stroke-width="0.6">0</text>
<text x="919.0" y="1918.0" font-size="19.5" font-weight="bold" text-anchor="end" textLength="19.0" lengthAdjust="spacingAndGlyphs" stroke="#000" stroke-width="0.6">-1</text>
<text x="919.0" y="2011.3" font-size="19.5" font-weight="bold" text-anchor="end" textLength="21.0" lengthAdjust="spacingAndGlyphs" stroke="#000" stroke-width="0.6">-2</text>
<text x="971.9" y="2062.5" font-size="19" font-weight="bold" text-anchor="middle" textLength="30.0" lengthAdjust="spacingAndGlyphs" stroke="#000" stroke-width="0.6">0.0</text>
<text x="1055.4" y="2062.5" font-size="19" font-weight="bold" text-anchor="middle" textLength="30.0" lengthAdjust="spacingAndGlyphs" stroke="#000" stroke-width="0.6">0.2</text>
<text x="1137.9" y="2062.5" font-size="19" font-weight="bold" text-anchor="middle" textLength="30.0" lengthAdjust="spacingAndGlyphs" stroke="#000" stroke-width="0.6">0.4</text>
<text x="1213.4" y="2062.5" font-size="19" font-weight="bold" text-anchor="middle" textLength="30.0" lengthAdjust="spacingAndGlyphs" stroke="#000" stroke-width="0.6">0.6</text>
<text x="1305.4" y="2062.5" font-size="19" font-weight="bold" text-anchor="middle" textLength="30.0" lengthAdjust="spacingAndGlyphs" stroke="#000" stroke-width="0.6">0.8</text>
<text x="1384.4" y="2062.5" font-size="19" font-weight="bold" text-anchor="middle" textLength="30.0" lengthAdjust="spacingAndGlyphs" stroke="#000" stroke-width="0.6">1.0</text>
<text x="1063.0" y="2108.0" font-size="21" font-weight="bold" textLength="255.0" lengthAdjust="spacingAndGlyphs" stroke="#000" stroke-width="0.6">Predicted Class Probabilities</text>
<text x="0.0" y="0.0" font-size="21" font-weight="bold" text-anchor="middle" textLength="74.5" lengthAdjust="spacingAndGlyphs" transform="translate(885.5,1804.6) rotate(-90)" stroke="#000" stroke-width="0.6">Samples</text>
<circle cx="1426.1" cy="1689.4" r="7" fill="#fff" stroke="#333" stroke-width="1.5"/>
<ellipse cx="1427.6" cy="1719.2" rx="7.3" ry="7.6" fill="#000"/>
<text x="1459.8" y="1700.0" font-size="30" font-weight="bold" textLength="58.0" lengthAdjust="spacingAndGlyphs" stroke="#000" stroke-width="0.6">OND</text>
<text x="1462.9" y="1730.5" font-size="30" font-weight="bold" textLength="55.0" lengthAdjust="spacingAndGlyphs" stroke="#000" stroke-width="0.6">MuS</text>
<line x1="1402.5" y1="1847.8" x2="1639.0" y2="1847.8" stroke="#222" stroke-width="2.2" />
<line x1="1402.5" y1="1890.6" x2="1639.0" y2="1890.6" stroke="#222" stroke-width="2.2" />
<line x1="1402.5" y1="2021.4" x2="1639.0" y2="2021.4" stroke="#222" stroke-width="2.2" />
<text x="1438.0" y="1877.0" font-size="21" font-weight="bold" textLength="165.0" lengthAdjust="spacingAndGlyphs">Confusion Matrix</text>
<text x="1502.6" y="1920.2" font-size="21.5" text-anchor="middle" fill="#111">0</text>
<text x="1598.7" y="1920.2" font-size="21.5" text-anchor="middle" fill="#111">1</text>
<text x="1423.6" y="1964.0" font-size="21.5" text-anchor="middle" fill="#111">0</text>
<text x="1503.0" y="1964.0" font-size="21.5" text-anchor="middle" fill="#111">12</text>
<text x="1599.2" y="1964.0" font-size="21.5" text-anchor="middle" fill="#111">0</text>
<text x="1423.6" y="2006.8" font-size="21.5" text-anchor="middle" fill="#111">1</text>
<text x="1502.6" y="2006.8" font-size="21.5" text-anchor="middle" fill="#111">2</text>
<text x="1598.7" y="2006.8" font-size="21.5" text-anchor="middle" fill="#111">17</text>
</svg></body></html>
